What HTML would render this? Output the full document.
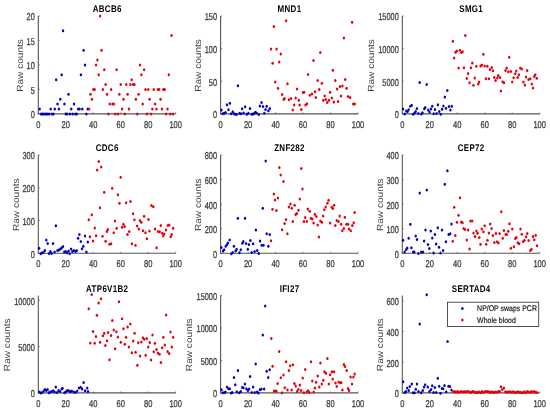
<!DOCTYPE html>
<html><head><meta charset="utf-8"><style>
html,body{margin:0;padding:0;background:#fff;width:550px;height:411px;overflow:hidden}
svg text{font-family:"Liberation Sans",sans-serif;text-rendering:geometricPrecision}
svg{will-change:transform}
</style></head><body>
<svg width="550" height="411" viewBox="0 0 550 411" style="display:block"><path d="M38.30,16.00V113.90H175.70" fill="none" stroke="#555" stroke-width="1.1"/>
<path d="M38.30,113.90h1.4 M38.30,89.43h1.4 M38.30,64.95h1.4 M38.30,40.47h1.4 M38.30,16.00h1.4 M38.30,113.90v-1.4 M65.78,113.90v-1.4 M93.26,113.90v-1.4 M120.74,113.90v-1.4 M148.22,113.90v-1.4 M175.70,113.90v-1.4" stroke="#555" stroke-width="0.8"/>
<text transform="translate(34.80,118.20) scale(0.74,1)" font-size="10.0" text-anchor="end" font-weight="normal" fill="#404040" stroke="#404040" stroke-width="0.3">0</text>
<text transform="translate(34.80,93.73) scale(0.74,1)" font-size="10.0" text-anchor="end" font-weight="normal" fill="#404040" stroke="#404040" stroke-width="0.3">5</text>
<text transform="translate(34.80,69.25) scale(0.74,1)" font-size="10.0" text-anchor="end" font-weight="normal" fill="#404040" stroke="#404040" stroke-width="0.3">10</text>
<text transform="translate(34.80,44.77) scale(0.74,1)" font-size="10.0" text-anchor="end" font-weight="normal" fill="#404040" stroke="#404040" stroke-width="0.3">15</text>
<text transform="translate(34.80,20.30) scale(0.74,1)" font-size="10.0" text-anchor="end" font-weight="normal" fill="#404040" stroke="#404040" stroke-width="0.3">20</text>
<text transform="translate(38.30,127.90) scale(0.76,1)" font-size="9.9" text-anchor="middle" font-weight="normal" fill="#404040" stroke="#404040" stroke-width="0.3">0</text>
<text transform="translate(65.78,127.90) scale(0.76,1)" font-size="9.9" text-anchor="middle" font-weight="normal" fill="#404040" stroke="#404040" stroke-width="0.3">20</text>
<text transform="translate(93.26,127.90) scale(0.76,1)" font-size="9.9" text-anchor="middle" font-weight="normal" fill="#404040" stroke="#404040" stroke-width="0.3">40</text>
<text transform="translate(120.74,127.90) scale(0.76,1)" font-size="9.9" text-anchor="middle" font-weight="normal" fill="#404040" stroke="#404040" stroke-width="0.3">60</text>
<text transform="translate(148.22,127.90) scale(0.76,1)" font-size="9.9" text-anchor="middle" font-weight="normal" fill="#404040" stroke="#404040" stroke-width="0.3">80</text>
<text transform="translate(175.70,127.90) scale(0.76,1)" font-size="9.9" text-anchor="middle" font-weight="normal" fill="#404040" stroke="#404040" stroke-width="0.3">100</text>
<text transform="translate(107.20,12.20) scale(0.82,1)" font-size="9.7" text-anchor="middle" font-weight="bold" fill="#000" letter-spacing="0.4">ABCB6</text>
<text transform="translate(22.70,65.45) rotate(-90) scale(1,0.88)" font-size="10.1" text-anchor="middle" font-weight="normal" fill="#404040">Raw counts</text>
<ellipse cx="39.67" cy="109.01" rx="1.2" ry="1.5" fill="#0000c4"/>
<ellipse cx="41.05" cy="113.90" rx="1.2" ry="1.5" fill="#0000c4"/>
<ellipse cx="42.42" cy="113.90" rx="1.2" ry="1.5" fill="#0000c4"/>
<ellipse cx="43.80" cy="113.90" rx="1.2" ry="1.5" fill="#0000c4"/>
<ellipse cx="45.17" cy="113.90" rx="1.2" ry="1.5" fill="#0000c4"/>
<ellipse cx="46.54" cy="113.90" rx="1.2" ry="1.5" fill="#0000c4"/>
<ellipse cx="47.92" cy="113.90" rx="1.2" ry="1.5" fill="#0000c4"/>
<ellipse cx="49.29" cy="113.90" rx="1.2" ry="1.5" fill="#0000c4"/>
<ellipse cx="50.67" cy="109.01" rx="1.2" ry="1.5" fill="#0000c4"/>
<ellipse cx="52.04" cy="113.90" rx="1.2" ry="1.5" fill="#0000c4"/>
<ellipse cx="53.41" cy="113.90" rx="1.2" ry="1.5" fill="#0000c4"/>
<ellipse cx="54.79" cy="109.01" rx="1.2" ry="1.5" fill="#0000c4"/>
<ellipse cx="56.16" cy="79.64" rx="1.2" ry="1.5" fill="#0000c4"/>
<ellipse cx="57.54" cy="104.11" rx="1.2" ry="1.5" fill="#0000c4"/>
<ellipse cx="58.91" cy="109.01" rx="1.2" ry="1.5" fill="#0000c4"/>
<ellipse cx="60.28" cy="99.22" rx="1.2" ry="1.5" fill="#0000c4"/>
<ellipse cx="61.66" cy="74.74" rx="1.2" ry="1.5" fill="#0000c4"/>
<ellipse cx="63.03" cy="30.69" rx="1.2" ry="1.5" fill="#0000c4"/>
<ellipse cx="64.41" cy="104.11" rx="1.2" ry="1.5" fill="#0000c4"/>
<ellipse cx="65.78" cy="113.90" rx="1.2" ry="1.5" fill="#0000c4"/>
<ellipse cx="67.15" cy="113.90" rx="1.2" ry="1.5" fill="#0000c4"/>
<ellipse cx="68.53" cy="94.32" rx="1.2" ry="1.5" fill="#0000c4"/>
<ellipse cx="69.90" cy="113.90" rx="1.2" ry="1.5" fill="#0000c4"/>
<ellipse cx="71.28" cy="109.01" rx="1.2" ry="1.5" fill="#0000c4"/>
<ellipse cx="72.65" cy="113.90" rx="1.2" ry="1.5" fill="#0000c4"/>
<ellipse cx="74.02" cy="104.11" rx="1.2" ry="1.5" fill="#0000c4"/>
<ellipse cx="75.40" cy="113.90" rx="1.2" ry="1.5" fill="#0000c4"/>
<ellipse cx="76.77" cy="113.90" rx="1.2" ry="1.5" fill="#0000c4"/>
<ellipse cx="78.15" cy="109.01" rx="1.2" ry="1.5" fill="#0000c4"/>
<ellipse cx="79.52" cy="109.01" rx="1.2" ry="1.5" fill="#0000c4"/>
<ellipse cx="80.89" cy="74.74" rx="1.2" ry="1.5" fill="#0000c4"/>
<ellipse cx="82.27" cy="109.01" rx="1.2" ry="1.5" fill="#0000c4"/>
<ellipse cx="83.64" cy="50.27" rx="1.2" ry="1.5" fill="#0000c4"/>
<ellipse cx="85.02" cy="64.95" rx="1.2" ry="1.5" fill="#0000c4"/>
<ellipse cx="86.39" cy="113.90" rx="1.2" ry="1.5" fill="#0000c4"/>
<ellipse cx="87.76" cy="109.01" rx="1.2" ry="1.5" fill="#0000c4"/>
<ellipse cx="89.14" cy="109.01" rx="1.2" ry="1.5" fill="#e4000c"/>
<ellipse cx="90.51" cy="94.32" rx="1.2" ry="1.5" fill="#e4000c"/>
<ellipse cx="91.89" cy="99.22" rx="1.2" ry="1.5" fill="#e4000c"/>
<ellipse cx="93.26" cy="89.43" rx="1.2" ry="1.5" fill="#e4000c"/>
<ellipse cx="94.63" cy="89.43" rx="1.2" ry="1.5" fill="#e4000c"/>
<ellipse cx="96.01" cy="64.95" rx="1.2" ry="1.5" fill="#e4000c"/>
<ellipse cx="97.38" cy="60.05" rx="1.2" ry="1.5" fill="#e4000c"/>
<ellipse cx="98.76" cy="74.74" rx="1.2" ry="1.5" fill="#e4000c"/>
<ellipse cx="100.13" cy="16.00" rx="1.2" ry="1.5" fill="#e4000c"/>
<ellipse cx="101.50" cy="50.27" rx="1.2" ry="1.5" fill="#e4000c"/>
<ellipse cx="102.88" cy="89.43" rx="1.2" ry="1.5" fill="#e4000c"/>
<ellipse cx="104.25" cy="69.84" rx="1.2" ry="1.5" fill="#e4000c"/>
<ellipse cx="105.63" cy="84.53" rx="1.2" ry="1.5" fill="#e4000c"/>
<ellipse cx="107.00" cy="94.32" rx="1.2" ry="1.5" fill="#e4000c"/>
<ellipse cx="108.37" cy="113.90" rx="1.2" ry="1.5" fill="#e4000c"/>
<ellipse cx="109.75" cy="104.11" rx="1.2" ry="1.5" fill="#e4000c"/>
<ellipse cx="111.12" cy="89.43" rx="1.2" ry="1.5" fill="#e4000c"/>
<ellipse cx="112.50" cy="104.11" rx="1.2" ry="1.5" fill="#e4000c"/>
<ellipse cx="113.87" cy="104.11" rx="1.2" ry="1.5" fill="#e4000c"/>
<ellipse cx="115.24" cy="113.90" rx="1.2" ry="1.5" fill="#e4000c"/>
<ellipse cx="116.62" cy="69.84" rx="1.2" ry="1.5" fill="#e4000c"/>
<ellipse cx="117.99" cy="113.90" rx="1.2" ry="1.5" fill="#e4000c"/>
<ellipse cx="119.37" cy="94.32" rx="1.2" ry="1.5" fill="#e4000c"/>
<ellipse cx="120.74" cy="84.53" rx="1.2" ry="1.5" fill="#e4000c"/>
<ellipse cx="122.11" cy="109.01" rx="1.2" ry="1.5" fill="#e4000c"/>
<ellipse cx="123.49" cy="99.22" rx="1.2" ry="1.5" fill="#e4000c"/>
<ellipse cx="124.86" cy="113.90" rx="1.2" ry="1.5" fill="#e4000c"/>
<ellipse cx="126.24" cy="84.53" rx="1.2" ry="1.5" fill="#e4000c"/>
<ellipse cx="127.61" cy="94.32" rx="1.2" ry="1.5" fill="#e4000c"/>
<ellipse cx="128.98" cy="109.01" rx="1.2" ry="1.5" fill="#e4000c"/>
<ellipse cx="130.36" cy="84.53" rx="1.2" ry="1.5" fill="#e4000c"/>
<ellipse cx="131.73" cy="79.64" rx="1.2" ry="1.5" fill="#e4000c"/>
<ellipse cx="133.11" cy="84.53" rx="1.2" ry="1.5" fill="#e4000c"/>
<ellipse cx="134.48" cy="84.53" rx="1.2" ry="1.5" fill="#e4000c"/>
<ellipse cx="135.85" cy="99.22" rx="1.2" ry="1.5" fill="#e4000c"/>
<ellipse cx="137.23" cy="113.90" rx="1.2" ry="1.5" fill="#e4000c"/>
<ellipse cx="138.60" cy="94.32" rx="1.2" ry="1.5" fill="#e4000c"/>
<ellipse cx="139.98" cy="64.95" rx="1.2" ry="1.5" fill="#e4000c"/>
<ellipse cx="141.35" cy="74.74" rx="1.2" ry="1.5" fill="#e4000c"/>
<ellipse cx="142.72" cy="104.11" rx="1.2" ry="1.5" fill="#e4000c"/>
<ellipse cx="144.10" cy="69.84" rx="1.2" ry="1.5" fill="#e4000c"/>
<ellipse cx="145.47" cy="89.43" rx="1.2" ry="1.5" fill="#e4000c"/>
<ellipse cx="146.85" cy="113.90" rx="1.2" ry="1.5" fill="#e4000c"/>
<ellipse cx="148.22" cy="89.43" rx="1.2" ry="1.5" fill="#e4000c"/>
<ellipse cx="149.59" cy="99.22" rx="1.2" ry="1.5" fill="#e4000c"/>
<ellipse cx="150.97" cy="113.90" rx="1.2" ry="1.5" fill="#e4000c"/>
<ellipse cx="152.34" cy="109.01" rx="1.2" ry="1.5" fill="#e4000c"/>
<ellipse cx="153.72" cy="89.43" rx="1.2" ry="1.5" fill="#e4000c"/>
<ellipse cx="155.09" cy="104.11" rx="1.2" ry="1.5" fill="#e4000c"/>
<ellipse cx="156.46" cy="109.01" rx="1.2" ry="1.5" fill="#e4000c"/>
<ellipse cx="157.84" cy="89.43" rx="1.2" ry="1.5" fill="#e4000c"/>
<ellipse cx="159.21" cy="89.43" rx="1.2" ry="1.5" fill="#e4000c"/>
<ellipse cx="160.59" cy="99.22" rx="1.2" ry="1.5" fill="#e4000c"/>
<ellipse cx="161.96" cy="109.01" rx="1.2" ry="1.5" fill="#e4000c"/>
<ellipse cx="163.33" cy="89.43" rx="1.2" ry="1.5" fill="#e4000c"/>
<ellipse cx="164.71" cy="89.43" rx="1.2" ry="1.5" fill="#e4000c"/>
<ellipse cx="166.08" cy="113.90" rx="1.2" ry="1.5" fill="#e4000c"/>
<ellipse cx="167.46" cy="109.01" rx="1.2" ry="1.5" fill="#e4000c"/>
<ellipse cx="168.83" cy="74.74" rx="1.2" ry="1.5" fill="#e4000c"/>
<ellipse cx="170.20" cy="113.90" rx="1.2" ry="1.5" fill="#e4000c"/>
<ellipse cx="171.58" cy="35.58" rx="1.2" ry="1.5" fill="#e4000c"/>
<ellipse cx="172.95" cy="113.90" rx="1.2" ry="1.5" fill="#e4000c"/>
<path d="M220.60,16.00V113.90H358.00" fill="none" stroke="#555" stroke-width="1.1"/>
<path d="M220.60,113.90h1.4 M220.60,81.27h1.4 M220.60,48.63h1.4 M220.60,16.00h1.4 M220.60,113.90v-1.4 M248.08,113.90v-1.4 M275.56,113.90v-1.4 M303.04,113.90v-1.4 M330.52,113.90v-1.4 M358.00,113.90v-1.4" stroke="#555" stroke-width="0.8"/>
<text transform="translate(217.10,118.20) scale(0.74,1)" font-size="10.0" text-anchor="end" font-weight="normal" fill="#404040" stroke="#404040" stroke-width="0.3">0</text>
<text transform="translate(217.10,85.57) scale(0.74,1)" font-size="10.0" text-anchor="end" font-weight="normal" fill="#404040" stroke="#404040" stroke-width="0.3">50</text>
<text transform="translate(217.10,52.93) scale(0.74,1)" font-size="10.0" text-anchor="end" font-weight="normal" fill="#404040" stroke="#404040" stroke-width="0.3">100</text>
<text transform="translate(217.10,20.30) scale(0.74,1)" font-size="10.0" text-anchor="end" font-weight="normal" fill="#404040" stroke="#404040" stroke-width="0.3">150</text>
<text transform="translate(220.60,127.90) scale(0.76,1)" font-size="9.9" text-anchor="middle" font-weight="normal" fill="#404040" stroke="#404040" stroke-width="0.3">0</text>
<text transform="translate(248.08,127.90) scale(0.76,1)" font-size="9.9" text-anchor="middle" font-weight="normal" fill="#404040" stroke="#404040" stroke-width="0.3">20</text>
<text transform="translate(275.56,127.90) scale(0.76,1)" font-size="9.9" text-anchor="middle" font-weight="normal" fill="#404040" stroke="#404040" stroke-width="0.3">40</text>
<text transform="translate(303.04,127.90) scale(0.76,1)" font-size="9.9" text-anchor="middle" font-weight="normal" fill="#404040" stroke="#404040" stroke-width="0.3">60</text>
<text transform="translate(330.52,127.90) scale(0.76,1)" font-size="9.9" text-anchor="middle" font-weight="normal" fill="#404040" stroke="#404040" stroke-width="0.3">80</text>
<text transform="translate(358.00,127.90) scale(0.76,1)" font-size="9.9" text-anchor="middle" font-weight="normal" fill="#404040" stroke="#404040" stroke-width="0.3">100</text>
<text transform="translate(289.50,12.20) scale(0.82,1)" font-size="9.7" text-anchor="middle" font-weight="bold" fill="#000" letter-spacing="0.4">MND1</text>
<text transform="translate(200.80,65.45) rotate(-90) scale(1,0.88)" font-size="10.1" text-anchor="middle" font-weight="normal" fill="#404040">Raw counts</text>
<ellipse cx="221.50" cy="110.00" rx="1.2" ry="1.5" fill="#0000c4"/>
<ellipse cx="222.70" cy="113.70" rx="1.2" ry="1.5" fill="#0000c4"/>
<ellipse cx="224.10" cy="113.20" rx="1.2" ry="1.5" fill="#0000c4"/>
<ellipse cx="225.60" cy="112.60" rx="1.2" ry="1.5" fill="#0000c4"/>
<ellipse cx="227.00" cy="104.70" rx="1.2" ry="1.5" fill="#0000c4"/>
<ellipse cx="228.50" cy="109.70" rx="1.2" ry="1.5" fill="#0000c4"/>
<ellipse cx="229.90" cy="103.30" rx="1.2" ry="1.5" fill="#0000c4"/>
<ellipse cx="231.10" cy="113.70" rx="1.2" ry="1.5" fill="#0000c4"/>
<ellipse cx="232.80" cy="111.70" rx="1.2" ry="1.5" fill="#0000c4"/>
<ellipse cx="234.00" cy="113.70" rx="1.2" ry="1.5" fill="#0000c4"/>
<ellipse cx="235.50" cy="114.30" rx="1.2" ry="1.5" fill="#0000c4"/>
<ellipse cx="236.60" cy="114.60" rx="1.2" ry="1.5" fill="#0000c4"/>
<ellipse cx="237.90" cy="85.70" rx="1.2" ry="1.5" fill="#0000c4"/>
<ellipse cx="239.50" cy="113.20" rx="1.2" ry="1.5" fill="#0000c4"/>
<ellipse cx="241.00" cy="113.70" rx="1.2" ry="1.5" fill="#0000c4"/>
<ellipse cx="242.10" cy="108.80" rx="1.2" ry="1.5" fill="#0000c4"/>
<ellipse cx="243.60" cy="112.90" rx="1.2" ry="1.5" fill="#0000c4"/>
<ellipse cx="245.10" cy="106.80" rx="1.2" ry="1.5" fill="#0000c4"/>
<ellipse cx="246.80" cy="114.30" rx="1.2" ry="1.5" fill="#0000c4"/>
<ellipse cx="248.40" cy="113.20" rx="1.2" ry="1.5" fill="#0000c4"/>
<ellipse cx="250.00" cy="108.50" rx="1.2" ry="1.5" fill="#0000c4"/>
<ellipse cx="251.80" cy="114.30" rx="1.2" ry="1.5" fill="#0000c4"/>
<ellipse cx="252.90" cy="114.00" rx="1.2" ry="1.5" fill="#0000c4"/>
<ellipse cx="254.10" cy="113.50" rx="1.2" ry="1.5" fill="#0000c4"/>
<ellipse cx="255.30" cy="112.30" rx="1.2" ry="1.5" fill="#0000c4"/>
<ellipse cx="256.70" cy="112.90" rx="1.2" ry="1.5" fill="#0000c4"/>
<ellipse cx="258.80" cy="114.60" rx="1.2" ry="1.5" fill="#0000c4"/>
<ellipse cx="259.90" cy="105.90" rx="1.2" ry="1.5" fill="#0000c4"/>
<ellipse cx="261.50" cy="102.50" rx="1.2" ry="1.5" fill="#0000c4"/>
<ellipse cx="263.00" cy="106.40" rx="1.2" ry="1.5" fill="#0000c4"/>
<ellipse cx="264.30" cy="113.20" rx="1.2" ry="1.5" fill="#0000c4"/>
<ellipse cx="265.50" cy="109.40" rx="1.2" ry="1.5" fill="#0000c4"/>
<ellipse cx="266.70" cy="106.20" rx="1.2" ry="1.5" fill="#0000c4"/>
<ellipse cx="268.40" cy="110.80" rx="1.2" ry="1.5" fill="#0000c4"/>
<ellipse cx="269.80" cy="108.50" rx="1.2" ry="1.5" fill="#0000c4"/>
<ellipse cx="271.10" cy="49.00" rx="1.2" ry="1.5" fill="#e4000c"/>
<ellipse cx="272.60" cy="63.20" rx="1.2" ry="1.5" fill="#e4000c"/>
<ellipse cx="273.90" cy="26.50" rx="1.2" ry="1.5" fill="#e4000c"/>
<ellipse cx="275.20" cy="81.90" rx="1.2" ry="1.5" fill="#e4000c"/>
<ellipse cx="276.60" cy="49.00" rx="1.2" ry="1.5" fill="#e4000c"/>
<ellipse cx="278.00" cy="88.20" rx="1.2" ry="1.5" fill="#e4000c"/>
<ellipse cx="279.20" cy="62.10" rx="1.2" ry="1.5" fill="#e4000c"/>
<ellipse cx="280.80" cy="54.10" rx="1.2" ry="1.5" fill="#e4000c"/>
<ellipse cx="282.20" cy="94.60" rx="1.2" ry="1.5" fill="#e4000c"/>
<ellipse cx="283.70" cy="99.50" rx="1.2" ry="1.5" fill="#e4000c"/>
<ellipse cx="284.60" cy="98.40" rx="1.2" ry="1.5" fill="#e4000c"/>
<ellipse cx="286.10" cy="20.70" rx="1.2" ry="1.5" fill="#e4000c"/>
<ellipse cx="287.50" cy="83.70" rx="1.2" ry="1.5" fill="#e4000c"/>
<ellipse cx="288.90" cy="99.80" rx="1.2" ry="1.5" fill="#e4000c"/>
<ellipse cx="291.10" cy="98.40" rx="1.2" ry="1.5" fill="#e4000c"/>
<ellipse cx="292.80" cy="110.10" rx="1.2" ry="1.5" fill="#e4000c"/>
<ellipse cx="294.20" cy="104.90" rx="1.2" ry="1.5" fill="#e4000c"/>
<ellipse cx="295.70" cy="97.90" rx="1.2" ry="1.5" fill="#e4000c"/>
<ellipse cx="297.10" cy="89.00" rx="1.2" ry="1.5" fill="#e4000c"/>
<ellipse cx="298.80" cy="100.30" rx="1.2" ry="1.5" fill="#e4000c"/>
<ellipse cx="299.60" cy="104.90" rx="1.2" ry="1.5" fill="#e4000c"/>
<ellipse cx="301.30" cy="109.40" rx="1.2" ry="1.5" fill="#e4000c"/>
<ellipse cx="303.00" cy="92.50" rx="1.2" ry="1.5" fill="#e4000c"/>
<ellipse cx="304.10" cy="92.20" rx="1.2" ry="1.5" fill="#e4000c"/>
<ellipse cx="305.50" cy="104.90" rx="1.2" ry="1.5" fill="#e4000c"/>
<ellipse cx="307.00" cy="103.80" rx="1.2" ry="1.5" fill="#e4000c"/>
<ellipse cx="308.10" cy="74.40" rx="1.2" ry="1.5" fill="#e4000c"/>
<ellipse cx="309.80" cy="95.30" rx="1.2" ry="1.5" fill="#e4000c"/>
<ellipse cx="311.90" cy="93.90" rx="1.2" ry="1.5" fill="#e4000c"/>
<ellipse cx="313.50" cy="60.40" rx="1.2" ry="1.5" fill="#e4000c"/>
<ellipse cx="315.00" cy="91.80" rx="1.2" ry="1.5" fill="#e4000c"/>
<ellipse cx="315.80" cy="97.40" rx="1.2" ry="1.5" fill="#e4000c"/>
<ellipse cx="317.60" cy="80.50" rx="1.2" ry="1.5" fill="#e4000c"/>
<ellipse cx="319.30" cy="89.40" rx="1.2" ry="1.5" fill="#e4000c"/>
<ellipse cx="320.30" cy="52.60" rx="1.2" ry="1.5" fill="#e4000c"/>
<ellipse cx="321.90" cy="83.30" rx="1.2" ry="1.5" fill="#e4000c"/>
<ellipse cx="323.30" cy="100.30" rx="1.2" ry="1.5" fill="#e4000c"/>
<ellipse cx="324.70" cy="96.00" rx="1.2" ry="1.5" fill="#e4000c"/>
<ellipse cx="325.80" cy="99.50" rx="1.2" ry="1.5" fill="#e4000c"/>
<ellipse cx="327.30" cy="102.40" rx="1.2" ry="1.5" fill="#e4000c"/>
<ellipse cx="329.00" cy="100.30" rx="1.2" ry="1.5" fill="#e4000c"/>
<ellipse cx="330.10" cy="92.20" rx="1.2" ry="1.5" fill="#e4000c"/>
<ellipse cx="331.80" cy="97.90" rx="1.2" ry="1.5" fill="#e4000c"/>
<ellipse cx="332.90" cy="70.20" rx="1.2" ry="1.5" fill="#e4000c"/>
<ellipse cx="333.90" cy="101.90" rx="1.2" ry="1.5" fill="#e4000c"/>
<ellipse cx="335.30" cy="80.50" rx="1.2" ry="1.5" fill="#e4000c"/>
<ellipse cx="337.10" cy="89.00" rx="1.2" ry="1.5" fill="#e4000c"/>
<ellipse cx="338.10" cy="101.40" rx="1.2" ry="1.5" fill="#e4000c"/>
<ellipse cx="340.00" cy="86.60" rx="1.2" ry="1.5" fill="#e4000c"/>
<ellipse cx="341.00" cy="96.00" rx="1.2" ry="1.5" fill="#e4000c"/>
<ellipse cx="342.40" cy="86.10" rx="1.2" ry="1.5" fill="#e4000c"/>
<ellipse cx="343.90" cy="38.10" rx="1.2" ry="1.5" fill="#e4000c"/>
<ellipse cx="345.20" cy="79.50" rx="1.2" ry="1.5" fill="#e4000c"/>
<ellipse cx="346.60" cy="88.20" rx="1.2" ry="1.5" fill="#e4000c"/>
<ellipse cx="348.00" cy="96.40" rx="1.2" ry="1.5" fill="#e4000c"/>
<ellipse cx="350.10" cy="97.40" rx="1.2" ry="1.5" fill="#e4000c"/>
<ellipse cx="352.10" cy="22.20" rx="1.2" ry="1.5" fill="#e4000c"/>
<ellipse cx="353.20" cy="104.10" rx="1.2" ry="1.5" fill="#e4000c"/>
<ellipse cx="354.70" cy="104.10" rx="1.2" ry="1.5" fill="#e4000c"/>
<path d="M402.30,16.00V113.90H539.70" fill="none" stroke="#555" stroke-width="1.1"/>
<path d="M402.30,113.90h1.4 M402.30,81.27h1.4 M402.30,48.63h1.4 M402.30,16.00h1.4 M402.30,113.90v-1.4 M429.78,113.90v-1.4 M457.26,113.90v-1.4 M484.74,113.90v-1.4 M512.22,113.90v-1.4 M539.70,113.90v-1.4" stroke="#555" stroke-width="0.8"/>
<text transform="translate(398.80,118.20) scale(0.74,1)" font-size="10.0" text-anchor="end" font-weight="normal" fill="#404040" stroke="#404040" stroke-width="0.3">0</text>
<text transform="translate(398.80,85.57) scale(0.74,1)" font-size="10.0" text-anchor="end" font-weight="normal" fill="#404040" stroke="#404040" stroke-width="0.3">5000</text>
<text transform="translate(398.80,52.93) scale(0.74,1)" font-size="10.0" text-anchor="end" font-weight="normal" fill="#404040" stroke="#404040" stroke-width="0.3">10000</text>
<text transform="translate(398.80,20.30) scale(0.74,1)" font-size="10.0" text-anchor="end" font-weight="normal" fill="#404040" stroke="#404040" stroke-width="0.3">15000</text>
<text transform="translate(402.30,127.90) scale(0.76,1)" font-size="9.9" text-anchor="middle" font-weight="normal" fill="#404040" stroke="#404040" stroke-width="0.3">0</text>
<text transform="translate(429.78,127.90) scale(0.76,1)" font-size="9.9" text-anchor="middle" font-weight="normal" fill="#404040" stroke="#404040" stroke-width="0.3">20</text>
<text transform="translate(457.26,127.90) scale(0.76,1)" font-size="9.9" text-anchor="middle" font-weight="normal" fill="#404040" stroke="#404040" stroke-width="0.3">40</text>
<text transform="translate(484.74,127.90) scale(0.76,1)" font-size="9.9" text-anchor="middle" font-weight="normal" fill="#404040" stroke="#404040" stroke-width="0.3">60</text>
<text transform="translate(512.22,127.90) scale(0.76,1)" font-size="9.9" text-anchor="middle" font-weight="normal" fill="#404040" stroke="#404040" stroke-width="0.3">80</text>
<text transform="translate(539.70,127.90) scale(0.76,1)" font-size="9.9" text-anchor="middle" font-weight="normal" fill="#404040" stroke="#404040" stroke-width="0.3">100</text>
<text transform="translate(471.20,12.20) scale(0.82,1)" font-size="9.7" text-anchor="middle" font-weight="bold" fill="#000" letter-spacing="0.4">SMG1</text>
<text transform="translate(374.10,65.45) rotate(-90) scale(1,0.88)" font-size="10.1" text-anchor="middle" font-weight="normal" fill="#404040">Raw counts</text>
<ellipse cx="403.10" cy="109.00" rx="1.2" ry="1.5" fill="#0000c4"/>
<ellipse cx="404.70" cy="113.90" rx="1.2" ry="1.5" fill="#0000c4"/>
<ellipse cx="406.30" cy="111.10" rx="1.2" ry="1.5" fill="#0000c4"/>
<ellipse cx="407.50" cy="111.60" rx="1.2" ry="1.5" fill="#0000c4"/>
<ellipse cx="408.60" cy="109.70" rx="1.2" ry="1.5" fill="#0000c4"/>
<ellipse cx="410.30" cy="106.20" rx="1.2" ry="1.5" fill="#0000c4"/>
<ellipse cx="411.70" cy="105.30" rx="1.2" ry="1.5" fill="#0000c4"/>
<ellipse cx="413.10" cy="114.20" rx="1.2" ry="1.5" fill="#0000c4"/>
<ellipse cx="414.60" cy="112.90" rx="1.2" ry="1.5" fill="#0000c4"/>
<ellipse cx="415.70" cy="111.60" rx="1.2" ry="1.5" fill="#0000c4"/>
<ellipse cx="416.90" cy="108.50" rx="1.2" ry="1.5" fill="#0000c4"/>
<ellipse cx="418.30" cy="113.50" rx="1.2" ry="1.5" fill="#0000c4"/>
<ellipse cx="419.70" cy="82.50" rx="1.2" ry="1.5" fill="#0000c4"/>
<ellipse cx="421.40" cy="113.90" rx="1.2" ry="1.5" fill="#0000c4"/>
<ellipse cx="422.50" cy="112.70" rx="1.2" ry="1.5" fill="#0000c4"/>
<ellipse cx="424.30" cy="108.70" rx="1.2" ry="1.5" fill="#0000c4"/>
<ellipse cx="425.30" cy="107.40" rx="1.2" ry="1.5" fill="#0000c4"/>
<ellipse cx="426.70" cy="84.60" rx="1.2" ry="1.5" fill="#0000c4"/>
<ellipse cx="428.20" cy="110.00" rx="1.2" ry="1.5" fill="#0000c4"/>
<ellipse cx="429.50" cy="112.10" rx="1.2" ry="1.5" fill="#0000c4"/>
<ellipse cx="430.90" cy="109.00" rx="1.2" ry="1.5" fill="#0000c4"/>
<ellipse cx="432.20" cy="106.20" rx="1.2" ry="1.5" fill="#0000c4"/>
<ellipse cx="433.70" cy="113.70" rx="1.2" ry="1.5" fill="#0000c4"/>
<ellipse cx="435.00" cy="109.50" rx="1.2" ry="1.5" fill="#0000c4"/>
<ellipse cx="436.60" cy="113.50" rx="1.2" ry="1.5" fill="#0000c4"/>
<ellipse cx="437.90" cy="104.80" rx="1.2" ry="1.5" fill="#0000c4"/>
<ellipse cx="439.20" cy="111.60" rx="1.2" ry="1.5" fill="#0000c4"/>
<ellipse cx="440.80" cy="114.20" rx="1.2" ry="1.5" fill="#0000c4"/>
<ellipse cx="442.10" cy="109.30" rx="1.2" ry="1.5" fill="#0000c4"/>
<ellipse cx="443.40" cy="105.90" rx="1.2" ry="1.5" fill="#0000c4"/>
<ellipse cx="444.80" cy="97.00" rx="1.2" ry="1.5" fill="#0000c4"/>
<ellipse cx="446.00" cy="108.30" rx="1.2" ry="1.5" fill="#0000c4"/>
<ellipse cx="447.30" cy="90.50" rx="1.2" ry="1.5" fill="#0000c4"/>
<ellipse cx="449.00" cy="106.60" rx="1.2" ry="1.5" fill="#0000c4"/>
<ellipse cx="450.40" cy="110.00" rx="1.2" ry="1.5" fill="#0000c4"/>
<ellipse cx="451.80" cy="106.20" rx="1.2" ry="1.5" fill="#0000c4"/>
<ellipse cx="452.90" cy="41.30" rx="1.2" ry="1.5" fill="#e4000c"/>
<ellipse cx="454.10" cy="58.10" rx="1.2" ry="1.5" fill="#e4000c"/>
<ellipse cx="455.50" cy="52.20" rx="1.2" ry="1.5" fill="#e4000c"/>
<ellipse cx="456.80" cy="51.00" rx="1.2" ry="1.5" fill="#e4000c"/>
<ellipse cx="458.60" cy="68.00" rx="1.2" ry="1.5" fill="#e4000c"/>
<ellipse cx="459.90" cy="50.20" rx="1.2" ry="1.5" fill="#e4000c"/>
<ellipse cx="461.40" cy="52.60" rx="1.2" ry="1.5" fill="#e4000c"/>
<ellipse cx="462.60" cy="51.70" rx="1.2" ry="1.5" fill="#e4000c"/>
<ellipse cx="463.90" cy="67.70" rx="1.2" ry="1.5" fill="#e4000c"/>
<ellipse cx="465.30" cy="35.60" rx="1.2" ry="1.5" fill="#e4000c"/>
<ellipse cx="466.70" cy="78.40" rx="1.2" ry="1.5" fill="#e4000c"/>
<ellipse cx="468.10" cy="73.60" rx="1.2" ry="1.5" fill="#e4000c"/>
<ellipse cx="469.60" cy="82.70" rx="1.2" ry="1.5" fill="#e4000c"/>
<ellipse cx="470.90" cy="67.80" rx="1.2" ry="1.5" fill="#e4000c"/>
<ellipse cx="472.30" cy="62.90" rx="1.2" ry="1.5" fill="#e4000c"/>
<ellipse cx="473.50" cy="85.20" rx="1.2" ry="1.5" fill="#e4000c"/>
<ellipse cx="474.80" cy="78.10" rx="1.2" ry="1.5" fill="#e4000c"/>
<ellipse cx="476.30" cy="66.20" rx="1.2" ry="1.5" fill="#e4000c"/>
<ellipse cx="478.20" cy="83.90" rx="1.2" ry="1.5" fill="#e4000c"/>
<ellipse cx="479.10" cy="82.00" rx="1.2" ry="1.5" fill="#e4000c"/>
<ellipse cx="480.60" cy="65.90" rx="1.2" ry="1.5" fill="#e4000c"/>
<ellipse cx="481.90" cy="65.00" rx="1.2" ry="1.5" fill="#e4000c"/>
<ellipse cx="483.30" cy="54.20" rx="1.2" ry="1.5" fill="#e4000c"/>
<ellipse cx="484.60" cy="65.90" rx="1.2" ry="1.5" fill="#e4000c"/>
<ellipse cx="485.90" cy="78.80" rx="1.2" ry="1.5" fill="#e4000c"/>
<ellipse cx="487.30" cy="66.20" rx="1.2" ry="1.5" fill="#e4000c"/>
<ellipse cx="488.90" cy="78.80" rx="1.2" ry="1.5" fill="#e4000c"/>
<ellipse cx="490.00" cy="69.60" rx="1.2" ry="1.5" fill="#e4000c"/>
<ellipse cx="491.80" cy="67.60" rx="1.2" ry="1.5" fill="#e4000c"/>
<ellipse cx="493.00" cy="70.80" rx="1.2" ry="1.5" fill="#e4000c"/>
<ellipse cx="494.30" cy="77.60" rx="1.2" ry="1.5" fill="#e4000c"/>
<ellipse cx="495.60" cy="80.60" rx="1.2" ry="1.5" fill="#e4000c"/>
<ellipse cx="497.30" cy="77.90" rx="1.2" ry="1.5" fill="#e4000c"/>
<ellipse cx="498.20" cy="75.50" rx="1.2" ry="1.5" fill="#e4000c"/>
<ellipse cx="500.00" cy="77.50" rx="1.2" ry="1.5" fill="#e4000c"/>
<ellipse cx="500.90" cy="91.10" rx="1.2" ry="1.5" fill="#e4000c"/>
<ellipse cx="502.60" cy="81.70" rx="1.2" ry="1.5" fill="#e4000c"/>
<ellipse cx="504.00" cy="82.70" rx="1.2" ry="1.5" fill="#e4000c"/>
<ellipse cx="505.50" cy="70.50" rx="1.2" ry="1.5" fill="#e4000c"/>
<ellipse cx="506.70" cy="68.10" rx="1.2" ry="1.5" fill="#e4000c"/>
<ellipse cx="508.30" cy="71.80" rx="1.2" ry="1.5" fill="#e4000c"/>
<ellipse cx="509.20" cy="57.20" rx="1.2" ry="1.5" fill="#e4000c"/>
<ellipse cx="510.80" cy="71.50" rx="1.2" ry="1.5" fill="#e4000c"/>
<ellipse cx="512.20" cy="81.90" rx="1.2" ry="1.5" fill="#e4000c"/>
<ellipse cx="513.60" cy="77.80" rx="1.2" ry="1.5" fill="#e4000c"/>
<ellipse cx="515.20" cy="73.70" rx="1.2" ry="1.5" fill="#e4000c"/>
<ellipse cx="516.30" cy="71.00" rx="1.2" ry="1.5" fill="#e4000c"/>
<ellipse cx="517.70" cy="77.40" rx="1.2" ry="1.5" fill="#e4000c"/>
<ellipse cx="518.90" cy="74.80" rx="1.2" ry="1.5" fill="#e4000c"/>
<ellipse cx="520.30" cy="68.00" rx="1.2" ry="1.5" fill="#e4000c"/>
<ellipse cx="521.80" cy="69.10" rx="1.2" ry="1.5" fill="#e4000c"/>
<ellipse cx="523.40" cy="81.90" rx="1.2" ry="1.5" fill="#e4000c"/>
<ellipse cx="524.90" cy="85.10" rx="1.2" ry="1.5" fill="#e4000c"/>
<ellipse cx="526.00" cy="77.10" rx="1.2" ry="1.5" fill="#e4000c"/>
<ellipse cx="527.20" cy="70.40" rx="1.2" ry="1.5" fill="#e4000c"/>
<ellipse cx="528.60" cy="79.50" rx="1.2" ry="1.5" fill="#e4000c"/>
<ellipse cx="530.30" cy="78.80" rx="1.2" ry="1.5" fill="#e4000c"/>
<ellipse cx="531.80" cy="84.00" rx="1.2" ry="1.5" fill="#e4000c"/>
<ellipse cx="533.00" cy="88.00" rx="1.2" ry="1.5" fill="#e4000c"/>
<ellipse cx="534.30" cy="76.60" rx="1.2" ry="1.5" fill="#e4000c"/>
<ellipse cx="535.30" cy="74.80" rx="1.2" ry="1.5" fill="#e4000c"/>
<ellipse cx="536.80" cy="78.30" rx="1.2" ry="1.5" fill="#e4000c"/>
<path d="M38.30,155.10V253.30H175.70" fill="none" stroke="#555" stroke-width="1.1"/>
<path d="M38.30,253.30h1.4 M38.30,220.57h1.4 M38.30,187.83h1.4 M38.30,155.10h1.4 M38.30,253.30v-1.4 M65.78,253.30v-1.4 M93.26,253.30v-1.4 M120.74,253.30v-1.4 M148.22,253.30v-1.4 M175.70,253.30v-1.4" stroke="#555" stroke-width="0.8"/>
<text transform="translate(34.80,257.60) scale(0.74,1)" font-size="10.0" text-anchor="end" font-weight="normal" fill="#404040" stroke="#404040" stroke-width="0.3">0</text>
<text transform="translate(34.80,224.87) scale(0.74,1)" font-size="10.0" text-anchor="end" font-weight="normal" fill="#404040" stroke="#404040" stroke-width="0.3">100</text>
<text transform="translate(34.80,192.13) scale(0.74,1)" font-size="10.0" text-anchor="end" font-weight="normal" fill="#404040" stroke="#404040" stroke-width="0.3">200</text>
<text transform="translate(34.80,159.40) scale(0.74,1)" font-size="10.0" text-anchor="end" font-weight="normal" fill="#404040" stroke="#404040" stroke-width="0.3">300</text>
<text transform="translate(38.30,267.30) scale(0.76,1)" font-size="9.9" text-anchor="middle" font-weight="normal" fill="#404040" stroke="#404040" stroke-width="0.3">0</text>
<text transform="translate(65.78,267.30) scale(0.76,1)" font-size="9.9" text-anchor="middle" font-weight="normal" fill="#404040" stroke="#404040" stroke-width="0.3">20</text>
<text transform="translate(93.26,267.30) scale(0.76,1)" font-size="9.9" text-anchor="middle" font-weight="normal" fill="#404040" stroke="#404040" stroke-width="0.3">40</text>
<text transform="translate(120.74,267.30) scale(0.76,1)" font-size="9.9" text-anchor="middle" font-weight="normal" fill="#404040" stroke="#404040" stroke-width="0.3">60</text>
<text transform="translate(148.22,267.30) scale(0.76,1)" font-size="9.9" text-anchor="middle" font-weight="normal" fill="#404040" stroke="#404040" stroke-width="0.3">80</text>
<text transform="translate(175.70,267.30) scale(0.76,1)" font-size="9.9" text-anchor="middle" font-weight="normal" fill="#404040" stroke="#404040" stroke-width="0.3">100</text>
<text transform="translate(107.20,151.30) scale(0.82,1)" font-size="9.7" text-anchor="middle" font-weight="bold" fill="#000" letter-spacing="0.4">CDC6</text>
<text transform="translate(18.50,204.70) rotate(-90) scale(1,0.88)" font-size="10.1" text-anchor="middle" font-weight="normal" fill="#404040">Raw counts</text>
<ellipse cx="39.10" cy="248.30" rx="1.2" ry="1.5" fill="#0000c4"/>
<ellipse cx="40.70" cy="253.70" rx="1.2" ry="1.5" fill="#0000c4"/>
<ellipse cx="42.10" cy="252.70" rx="1.2" ry="1.5" fill="#0000c4"/>
<ellipse cx="43.30" cy="252.50" rx="1.2" ry="1.5" fill="#0000c4"/>
<ellipse cx="44.90" cy="250.60" rx="1.2" ry="1.5" fill="#0000c4"/>
<ellipse cx="46.30" cy="239.90" rx="1.2" ry="1.5" fill="#0000c4"/>
<ellipse cx="47.70" cy="243.50" rx="1.2" ry="1.5" fill="#0000c4"/>
<ellipse cx="49.10" cy="253.50" rx="1.2" ry="1.5" fill="#0000c4"/>
<ellipse cx="50.40" cy="251.60" rx="1.2" ry="1.5" fill="#0000c4"/>
<ellipse cx="51.70" cy="253.50" rx="1.2" ry="1.5" fill="#0000c4"/>
<ellipse cx="53.00" cy="243.50" rx="1.2" ry="1.5" fill="#0000c4"/>
<ellipse cx="54.60" cy="252.10" rx="1.2" ry="1.5" fill="#0000c4"/>
<ellipse cx="55.90" cy="225.70" rx="1.2" ry="1.5" fill="#0000c4"/>
<ellipse cx="57.50" cy="250.60" rx="1.2" ry="1.5" fill="#0000c4"/>
<ellipse cx="58.80" cy="250.10" rx="1.2" ry="1.5" fill="#0000c4"/>
<ellipse cx="60.30" cy="249.00" rx="1.2" ry="1.5" fill="#0000c4"/>
<ellipse cx="61.60" cy="248.00" rx="1.2" ry="1.5" fill="#0000c4"/>
<ellipse cx="63.00" cy="246.60" rx="1.2" ry="1.5" fill="#0000c4"/>
<ellipse cx="64.30" cy="252.10" rx="1.2" ry="1.5" fill="#0000c4"/>
<ellipse cx="65.80" cy="251.60" rx="1.2" ry="1.5" fill="#0000c4"/>
<ellipse cx="67.20" cy="252.70" rx="1.2" ry="1.5" fill="#0000c4"/>
<ellipse cx="68.60" cy="251.10" rx="1.2" ry="1.5" fill="#0000c4"/>
<ellipse cx="69.70" cy="253.70" rx="1.2" ry="1.5" fill="#0000c4"/>
<ellipse cx="71.10" cy="249.00" rx="1.2" ry="1.5" fill="#0000c4"/>
<ellipse cx="72.40" cy="251.40" rx="1.2" ry="1.5" fill="#0000c4"/>
<ellipse cx="73.90" cy="250.60" rx="1.2" ry="1.5" fill="#0000c4"/>
<ellipse cx="75.60" cy="251.40" rx="1.2" ry="1.5" fill="#0000c4"/>
<ellipse cx="76.80" cy="250.60" rx="1.2" ry="1.5" fill="#0000c4"/>
<ellipse cx="78.10" cy="238.20" rx="1.2" ry="1.5" fill="#0000c4"/>
<ellipse cx="79.40" cy="234.40" rx="1.2" ry="1.5" fill="#0000c4"/>
<ellipse cx="80.80" cy="241.40" rx="1.2" ry="1.5" fill="#0000c4"/>
<ellipse cx="82.00" cy="248.70" rx="1.2" ry="1.5" fill="#0000c4"/>
<ellipse cx="83.30" cy="246.20" rx="1.2" ry="1.5" fill="#0000c4"/>
<ellipse cx="85.00" cy="235.90" rx="1.2" ry="1.5" fill="#0000c4"/>
<ellipse cx="86.40" cy="252.10" rx="1.2" ry="1.5" fill="#0000c4"/>
<ellipse cx="87.80" cy="242.00" rx="1.2" ry="1.5" fill="#0000c4"/>
<ellipse cx="88.80" cy="219.70" rx="1.2" ry="1.5" fill="#e4000c"/>
<ellipse cx="89.90" cy="236.70" rx="1.2" ry="1.5" fill="#e4000c"/>
<ellipse cx="91.80" cy="214.70" rx="1.2" ry="1.5" fill="#e4000c"/>
<ellipse cx="93.10" cy="241.10" rx="1.2" ry="1.5" fill="#e4000c"/>
<ellipse cx="94.80" cy="227.90" rx="1.2" ry="1.5" fill="#e4000c"/>
<ellipse cx="96.10" cy="235.70" rx="1.2" ry="1.5" fill="#e4000c"/>
<ellipse cx="97.20" cy="170.00" rx="1.2" ry="1.5" fill="#e4000c"/>
<ellipse cx="98.80" cy="161.50" rx="1.2" ry="1.5" fill="#e4000c"/>
<ellipse cx="99.90" cy="207.70" rx="1.2" ry="1.5" fill="#e4000c"/>
<ellipse cx="101.20" cy="167.10" rx="1.2" ry="1.5" fill="#e4000c"/>
<ellipse cx="102.50" cy="236.20" rx="1.2" ry="1.5" fill="#e4000c"/>
<ellipse cx="104.20" cy="192.20" rx="1.2" ry="1.5" fill="#e4000c"/>
<ellipse cx="105.60" cy="241.30" rx="1.2" ry="1.5" fill="#e4000c"/>
<ellipse cx="106.90" cy="231.40" rx="1.2" ry="1.5" fill="#e4000c"/>
<ellipse cx="107.90" cy="229.50" rx="1.2" ry="1.5" fill="#e4000c"/>
<ellipse cx="109.50" cy="244.30" rx="1.2" ry="1.5" fill="#e4000c"/>
<ellipse cx="111.10" cy="243.70" rx="1.2" ry="1.5" fill="#e4000c"/>
<ellipse cx="112.20" cy="188.20" rx="1.2" ry="1.5" fill="#e4000c"/>
<ellipse cx="113.70" cy="232.70" rx="1.2" ry="1.5" fill="#e4000c"/>
<ellipse cx="115.00" cy="221.10" rx="1.2" ry="1.5" fill="#e4000c"/>
<ellipse cx="116.70" cy="228.20" rx="1.2" ry="1.5" fill="#e4000c"/>
<ellipse cx="117.90" cy="194.70" rx="1.2" ry="1.5" fill="#e4000c"/>
<ellipse cx="119.50" cy="203.20" rx="1.2" ry="1.5" fill="#e4000c"/>
<ellipse cx="120.70" cy="177.30" rx="1.2" ry="1.5" fill="#e4000c"/>
<ellipse cx="122.10" cy="227.20" rx="1.2" ry="1.5" fill="#e4000c"/>
<ellipse cx="123.40" cy="224.30" rx="1.2" ry="1.5" fill="#e4000c"/>
<ellipse cx="124.70" cy="226.60" rx="1.2" ry="1.5" fill="#e4000c"/>
<ellipse cx="126.10" cy="202.80" rx="1.2" ry="1.5" fill="#e4000c"/>
<ellipse cx="127.50" cy="234.40" rx="1.2" ry="1.5" fill="#e4000c"/>
<ellipse cx="129.20" cy="231.40" rx="1.2" ry="1.5" fill="#e4000c"/>
<ellipse cx="130.50" cy="201.40" rx="1.2" ry="1.5" fill="#e4000c"/>
<ellipse cx="131.90" cy="243.70" rx="1.2" ry="1.5" fill="#e4000c"/>
<ellipse cx="133.10" cy="213.80" rx="1.2" ry="1.5" fill="#e4000c"/>
<ellipse cx="134.40" cy="219.80" rx="1.2" ry="1.5" fill="#e4000c"/>
<ellipse cx="135.50" cy="245.30" rx="1.2" ry="1.5" fill="#e4000c"/>
<ellipse cx="137.10" cy="226.10" rx="1.2" ry="1.5" fill="#e4000c"/>
<ellipse cx="138.80" cy="229.00" rx="1.2" ry="1.5" fill="#e4000c"/>
<ellipse cx="139.90" cy="220.50" rx="1.2" ry="1.5" fill="#e4000c"/>
<ellipse cx="141.30" cy="222.30" rx="1.2" ry="1.5" fill="#e4000c"/>
<ellipse cx="143.00" cy="230.80" rx="1.2" ry="1.5" fill="#e4000c"/>
<ellipse cx="144.10" cy="216.20" rx="1.2" ry="1.5" fill="#e4000c"/>
<ellipse cx="145.50" cy="232.80" rx="1.2" ry="1.5" fill="#e4000c"/>
<ellipse cx="146.90" cy="238.80" rx="1.2" ry="1.5" fill="#e4000c"/>
<ellipse cx="148.40" cy="219.50" rx="1.2" ry="1.5" fill="#e4000c"/>
<ellipse cx="149.50" cy="231.10" rx="1.2" ry="1.5" fill="#e4000c"/>
<ellipse cx="151.50" cy="205.60" rx="1.2" ry="1.5" fill="#e4000c"/>
<ellipse cx="153.30" cy="206.80" rx="1.2" ry="1.5" fill="#e4000c"/>
<ellipse cx="155.10" cy="229.00" rx="1.2" ry="1.5" fill="#e4000c"/>
<ellipse cx="156.60" cy="247.70" rx="1.2" ry="1.5" fill="#e4000c"/>
<ellipse cx="158.00" cy="231.40" rx="1.2" ry="1.5" fill="#e4000c"/>
<ellipse cx="159.70" cy="231.80" rx="1.2" ry="1.5" fill="#e4000c"/>
<ellipse cx="160.80" cy="225.40" rx="1.2" ry="1.5" fill="#e4000c"/>
<ellipse cx="162.20" cy="233.20" rx="1.2" ry="1.5" fill="#e4000c"/>
<ellipse cx="163.20" cy="236.00" rx="1.2" ry="1.5" fill="#e4000c"/>
<ellipse cx="164.20" cy="233.90" rx="1.2" ry="1.5" fill="#e4000c"/>
<ellipse cx="166.00" cy="229.90" rx="1.2" ry="1.5" fill="#e4000c"/>
<ellipse cx="167.90" cy="225.40" rx="1.2" ry="1.5" fill="#e4000c"/>
<ellipse cx="169.30" cy="225.10" rx="1.2" ry="1.5" fill="#e4000c"/>
<ellipse cx="170.70" cy="236.70" rx="1.2" ry="1.5" fill="#e4000c"/>
<ellipse cx="171.70" cy="234.60" rx="1.2" ry="1.5" fill="#e4000c"/>
<ellipse cx="173.10" cy="228.20" rx="1.2" ry="1.5" fill="#e4000c"/>
<path d="M220.60,155.10V253.30H358.00" fill="none" stroke="#555" stroke-width="1.1"/>
<path d="M220.60,253.30h1.4 M220.60,228.75h1.4 M220.60,204.20h1.4 M220.60,179.65h1.4 M220.60,155.10h1.4 M220.60,253.30v-1.4 M248.08,253.30v-1.4 M275.56,253.30v-1.4 M303.04,253.30v-1.4 M330.52,253.30v-1.4 M358.00,253.30v-1.4" stroke="#555" stroke-width="0.8"/>
<text transform="translate(217.10,257.60) scale(0.74,1)" font-size="10.0" text-anchor="end" font-weight="normal" fill="#404040" stroke="#404040" stroke-width="0.3">0</text>
<text transform="translate(217.10,233.05) scale(0.74,1)" font-size="10.0" text-anchor="end" font-weight="normal" fill="#404040" stroke="#404040" stroke-width="0.3">200</text>
<text transform="translate(217.10,208.50) scale(0.74,1)" font-size="10.0" text-anchor="end" font-weight="normal" fill="#404040" stroke="#404040" stroke-width="0.3">400</text>
<text transform="translate(217.10,183.95) scale(0.74,1)" font-size="10.0" text-anchor="end" font-weight="normal" fill="#404040" stroke="#404040" stroke-width="0.3">600</text>
<text transform="translate(217.10,159.40) scale(0.74,1)" font-size="10.0" text-anchor="end" font-weight="normal" fill="#404040" stroke="#404040" stroke-width="0.3">800</text>
<text transform="translate(220.60,267.30) scale(0.76,1)" font-size="9.9" text-anchor="middle" font-weight="normal" fill="#404040" stroke="#404040" stroke-width="0.3">0</text>
<text transform="translate(248.08,267.30) scale(0.76,1)" font-size="9.9" text-anchor="middle" font-weight="normal" fill="#404040" stroke="#404040" stroke-width="0.3">20</text>
<text transform="translate(275.56,267.30) scale(0.76,1)" font-size="9.9" text-anchor="middle" font-weight="normal" fill="#404040" stroke="#404040" stroke-width="0.3">40</text>
<text transform="translate(303.04,267.30) scale(0.76,1)" font-size="9.9" text-anchor="middle" font-weight="normal" fill="#404040" stroke="#404040" stroke-width="0.3">60</text>
<text transform="translate(330.52,267.30) scale(0.76,1)" font-size="9.9" text-anchor="middle" font-weight="normal" fill="#404040" stroke="#404040" stroke-width="0.3">80</text>
<text transform="translate(358.00,267.30) scale(0.76,1)" font-size="9.9" text-anchor="middle" font-weight="normal" fill="#404040" stroke="#404040" stroke-width="0.3">100</text>
<text transform="translate(289.50,151.30) scale(0.82,1)" font-size="9.7" text-anchor="middle" font-weight="bold" fill="#000" letter-spacing="0.4">ZNF282</text>
<text transform="translate(200.80,204.70) rotate(-90) scale(1,0.88)" font-size="10.1" text-anchor="middle" font-weight="normal" fill="#404040">Raw counts</text>
<ellipse cx="221.30" cy="247.60" rx="1.2" ry="1.5" fill="#0000c4"/>
<ellipse cx="223.00" cy="251.10" rx="1.2" ry="1.5" fill="#0000c4"/>
<ellipse cx="224.10" cy="249.70" rx="1.2" ry="1.5" fill="#0000c4"/>
<ellipse cx="225.80" cy="246.20" rx="1.2" ry="1.5" fill="#0000c4"/>
<ellipse cx="226.90" cy="244.80" rx="1.2" ry="1.5" fill="#0000c4"/>
<ellipse cx="227.90" cy="243.00" rx="1.2" ry="1.5" fill="#0000c4"/>
<ellipse cx="229.70" cy="240.10" rx="1.2" ry="1.5" fill="#0000c4"/>
<ellipse cx="231.40" cy="253.70" rx="1.2" ry="1.5" fill="#0000c4"/>
<ellipse cx="232.70" cy="252.50" rx="1.2" ry="1.5" fill="#0000c4"/>
<ellipse cx="233.90" cy="246.20" rx="1.2" ry="1.5" fill="#0000c4"/>
<ellipse cx="235.60" cy="251.10" rx="1.2" ry="1.5" fill="#0000c4"/>
<ellipse cx="236.60" cy="249.30" rx="1.2" ry="1.5" fill="#0000c4"/>
<ellipse cx="237.90" cy="218.30" rx="1.2" ry="1.5" fill="#0000c4"/>
<ellipse cx="239.50" cy="252.70" rx="1.2" ry="1.5" fill="#0000c4"/>
<ellipse cx="240.80" cy="249.70" rx="1.2" ry="1.5" fill="#0000c4"/>
<ellipse cx="242.30" cy="243.30" rx="1.2" ry="1.5" fill="#0000c4"/>
<ellipse cx="243.30" cy="241.40" rx="1.2" ry="1.5" fill="#0000c4"/>
<ellipse cx="245.00" cy="218.30" rx="1.2" ry="1.5" fill="#0000c4"/>
<ellipse cx="246.00" cy="243.50" rx="1.2" ry="1.5" fill="#0000c4"/>
<ellipse cx="247.80" cy="249.30" rx="1.2" ry="1.5" fill="#0000c4"/>
<ellipse cx="248.90" cy="244.50" rx="1.2" ry="1.5" fill="#0000c4"/>
<ellipse cx="250.40" cy="240.60" rx="1.2" ry="1.5" fill="#0000c4"/>
<ellipse cx="251.70" cy="252.50" rx="1.2" ry="1.5" fill="#0000c4"/>
<ellipse cx="253.10" cy="243.80" rx="1.2" ry="1.5" fill="#0000c4"/>
<ellipse cx="254.60" cy="251.40" rx="1.2" ry="1.5" fill="#0000c4"/>
<ellipse cx="255.90" cy="229.90" rx="1.2" ry="1.5" fill="#0000c4"/>
<ellipse cx="257.20" cy="250.60" rx="1.2" ry="1.5" fill="#0000c4"/>
<ellipse cx="258.80" cy="253.50" rx="1.2" ry="1.5" fill="#0000c4"/>
<ellipse cx="260.10" cy="241.00" rx="1.2" ry="1.5" fill="#0000c4"/>
<ellipse cx="261.70" cy="245.30" rx="1.2" ry="1.5" fill="#0000c4"/>
<ellipse cx="262.80" cy="208.30" rx="1.2" ry="1.5" fill="#0000c4"/>
<ellipse cx="263.50" cy="245.30" rx="1.2" ry="1.5" fill="#0000c4"/>
<ellipse cx="265.70" cy="161.10" rx="1.2" ry="1.5" fill="#0000c4"/>
<ellipse cx="266.70" cy="233.80" rx="1.2" ry="1.5" fill="#0000c4"/>
<ellipse cx="268.40" cy="246.20" rx="1.2" ry="1.5" fill="#0000c4"/>
<ellipse cx="269.80" cy="234.40" rx="1.2" ry="1.5" fill="#0000c4"/>
<ellipse cx="271.00" cy="240.70" rx="1.2" ry="1.5" fill="#e4000c"/>
<ellipse cx="272.50" cy="209.20" rx="1.2" ry="1.5" fill="#e4000c"/>
<ellipse cx="273.90" cy="193.90" rx="1.2" ry="1.5" fill="#e4000c"/>
<ellipse cx="275.00" cy="200.00" rx="1.2" ry="1.5" fill="#e4000c"/>
<ellipse cx="276.40" cy="210.60" rx="1.2" ry="1.5" fill="#e4000c"/>
<ellipse cx="277.90" cy="197.90" rx="1.2" ry="1.5" fill="#e4000c"/>
<ellipse cx="279.30" cy="167.40" rx="1.2" ry="1.5" fill="#e4000c"/>
<ellipse cx="280.70" cy="175.00" rx="1.2" ry="1.5" fill="#e4000c"/>
<ellipse cx="282.10" cy="229.70" rx="1.2" ry="1.5" fill="#e4000c"/>
<ellipse cx="283.50" cy="181.50" rx="1.2" ry="1.5" fill="#e4000c"/>
<ellipse cx="284.60" cy="223.50" rx="1.2" ry="1.5" fill="#e4000c"/>
<ellipse cx="286.00" cy="219.50" rx="1.2" ry="1.5" fill="#e4000c"/>
<ellipse cx="287.40" cy="233.80" rx="1.2" ry="1.5" fill="#e4000c"/>
<ellipse cx="288.90" cy="207.10" rx="1.2" ry="1.5" fill="#e4000c"/>
<ellipse cx="290.50" cy="203.90" rx="1.2" ry="1.5" fill="#e4000c"/>
<ellipse cx="291.80" cy="208.20" rx="1.2" ry="1.5" fill="#e4000c"/>
<ellipse cx="292.80" cy="221.60" rx="1.2" ry="1.5" fill="#e4000c"/>
<ellipse cx="294.60" cy="205.20" rx="1.2" ry="1.5" fill="#e4000c"/>
<ellipse cx="295.60" cy="214.60" rx="1.2" ry="1.5" fill="#e4000c"/>
<ellipse cx="296.90" cy="213.50" rx="1.2" ry="1.5" fill="#e4000c"/>
<ellipse cx="298.50" cy="210.30" rx="1.2" ry="1.5" fill="#e4000c"/>
<ellipse cx="299.80" cy="199.10" rx="1.2" ry="1.5" fill="#e4000c"/>
<ellipse cx="301.30" cy="168.50" rx="1.2" ry="1.5" fill="#e4000c"/>
<ellipse cx="302.50" cy="189.00" rx="1.2" ry="1.5" fill="#e4000c"/>
<ellipse cx="303.90" cy="221.40" rx="1.2" ry="1.5" fill="#e4000c"/>
<ellipse cx="305.20" cy="217.50" rx="1.2" ry="1.5" fill="#e4000c"/>
<ellipse cx="306.80" cy="221.40" rx="1.2" ry="1.5" fill="#e4000c"/>
<ellipse cx="307.80" cy="208.90" rx="1.2" ry="1.5" fill="#e4000c"/>
<ellipse cx="309.80" cy="211.30" rx="1.2" ry="1.5" fill="#e4000c"/>
<ellipse cx="310.90" cy="218.20" rx="1.2" ry="1.5" fill="#e4000c"/>
<ellipse cx="312.30" cy="219.00" rx="1.2" ry="1.5" fill="#e4000c"/>
<ellipse cx="313.60" cy="223.10" rx="1.2" ry="1.5" fill="#e4000c"/>
<ellipse cx="314.90" cy="214.20" rx="1.2" ry="1.5" fill="#e4000c"/>
<ellipse cx="316.40" cy="216.40" rx="1.2" ry="1.5" fill="#e4000c"/>
<ellipse cx="317.70" cy="225.10" rx="1.2" ry="1.5" fill="#e4000c"/>
<ellipse cx="318.90" cy="237.10" rx="1.2" ry="1.5" fill="#e4000c"/>
<ellipse cx="320.40" cy="221.10" rx="1.2" ry="1.5" fill="#e4000c"/>
<ellipse cx="321.90" cy="222.30" rx="1.2" ry="1.5" fill="#e4000c"/>
<ellipse cx="323.10" cy="216.10" rx="1.2" ry="1.5" fill="#e4000c"/>
<ellipse cx="324.30" cy="209.70" rx="1.2" ry="1.5" fill="#e4000c"/>
<ellipse cx="325.70" cy="207.10" rx="1.2" ry="1.5" fill="#e4000c"/>
<ellipse cx="327.40" cy="203.30" rx="1.2" ry="1.5" fill="#e4000c"/>
<ellipse cx="328.60" cy="200.30" rx="1.2" ry="1.5" fill="#e4000c"/>
<ellipse cx="330.10" cy="223.10" rx="1.2" ry="1.5" fill="#e4000c"/>
<ellipse cx="331.80" cy="207.30" rx="1.2" ry="1.5" fill="#e4000c"/>
<ellipse cx="332.90" cy="208.50" rx="1.2" ry="1.5" fill="#e4000c"/>
<ellipse cx="334.10" cy="205.20" rx="1.2" ry="1.5" fill="#e4000c"/>
<ellipse cx="335.30" cy="225.40" rx="1.2" ry="1.5" fill="#e4000c"/>
<ellipse cx="336.80" cy="220.40" rx="1.2" ry="1.5" fill="#e4000c"/>
<ellipse cx="338.50" cy="221.40" rx="1.2" ry="1.5" fill="#e4000c"/>
<ellipse cx="339.70" cy="216.10" rx="1.2" ry="1.5" fill="#e4000c"/>
<ellipse cx="341.10" cy="224.30" rx="1.2" ry="1.5" fill="#e4000c"/>
<ellipse cx="342.30" cy="230.70" rx="1.2" ry="1.5" fill="#e4000c"/>
<ellipse cx="343.80" cy="228.40" rx="1.2" ry="1.5" fill="#e4000c"/>
<ellipse cx="344.90" cy="217.30" rx="1.2" ry="1.5" fill="#e4000c"/>
<ellipse cx="346.50" cy="224.30" rx="1.2" ry="1.5" fill="#e4000c"/>
<ellipse cx="348.10" cy="224.30" rx="1.2" ry="1.5" fill="#e4000c"/>
<ellipse cx="349.00" cy="228.90" rx="1.2" ry="1.5" fill="#e4000c"/>
<ellipse cx="350.80" cy="230.70" rx="1.2" ry="1.5" fill="#e4000c"/>
<ellipse cx="352.30" cy="225.40" rx="1.2" ry="1.5" fill="#e4000c"/>
<ellipse cx="353.70" cy="222.80" rx="1.2" ry="1.5" fill="#e4000c"/>
<ellipse cx="354.60" cy="212.60" rx="1.2" ry="1.5" fill="#e4000c"/>
<path d="M402.30,155.10V253.30H539.70" fill="none" stroke="#555" stroke-width="1.1"/>
<path d="M402.30,253.30h1.4 M402.30,228.75h1.4 M402.30,204.20h1.4 M402.30,179.65h1.4 M402.30,155.10h1.4 M402.30,253.30v-1.4 M429.78,253.30v-1.4 M457.26,253.30v-1.4 M484.74,253.30v-1.4 M512.22,253.30v-1.4 M539.70,253.30v-1.4" stroke="#555" stroke-width="0.8"/>
<text transform="translate(398.80,257.60) scale(0.74,1)" font-size="10.0" text-anchor="end" font-weight="normal" fill="#404040" stroke="#404040" stroke-width="0.3">0</text>
<text transform="translate(398.80,233.05) scale(0.74,1)" font-size="10.0" text-anchor="end" font-weight="normal" fill="#404040" stroke="#404040" stroke-width="0.3">100</text>
<text transform="translate(398.80,208.50) scale(0.74,1)" font-size="10.0" text-anchor="end" font-weight="normal" fill="#404040" stroke="#404040" stroke-width="0.3">200</text>
<text transform="translate(398.80,183.95) scale(0.74,1)" font-size="10.0" text-anchor="end" font-weight="normal" fill="#404040" stroke="#404040" stroke-width="0.3">300</text>
<text transform="translate(398.80,159.40) scale(0.74,1)" font-size="10.0" text-anchor="end" font-weight="normal" fill="#404040" stroke="#404040" stroke-width="0.3">400</text>
<text transform="translate(402.30,267.30) scale(0.76,1)" font-size="9.9" text-anchor="middle" font-weight="normal" fill="#404040" stroke="#404040" stroke-width="0.3">0</text>
<text transform="translate(429.78,267.30) scale(0.76,1)" font-size="9.9" text-anchor="middle" font-weight="normal" fill="#404040" stroke="#404040" stroke-width="0.3">20</text>
<text transform="translate(457.26,267.30) scale(0.76,1)" font-size="9.9" text-anchor="middle" font-weight="normal" fill="#404040" stroke="#404040" stroke-width="0.3">40</text>
<text transform="translate(484.74,267.30) scale(0.76,1)" font-size="9.9" text-anchor="middle" font-weight="normal" fill="#404040" stroke="#404040" stroke-width="0.3">60</text>
<text transform="translate(512.22,267.30) scale(0.76,1)" font-size="9.9" text-anchor="middle" font-weight="normal" fill="#404040" stroke="#404040" stroke-width="0.3">80</text>
<text transform="translate(539.70,267.30) scale(0.76,1)" font-size="9.9" text-anchor="middle" font-weight="normal" fill="#404040" stroke="#404040" stroke-width="0.3">100</text>
<text transform="translate(471.20,151.30) scale(0.82,1)" font-size="9.7" text-anchor="middle" font-weight="bold" fill="#000" letter-spacing="0.4">CEP72</text>
<text transform="translate(382.50,204.70) rotate(-90) scale(1,0.88)" font-size="10.1" text-anchor="middle" font-weight="normal" fill="#404040">Raw counts</text>
<ellipse cx="403.10" cy="240.20" rx="1.2" ry="1.5" fill="#0000c4"/>
<ellipse cx="404.70" cy="252.10" rx="1.2" ry="1.5" fill="#0000c4"/>
<ellipse cx="406.20" cy="249.50" rx="1.2" ry="1.5" fill="#0000c4"/>
<ellipse cx="407.30" cy="248.10" rx="1.2" ry="1.5" fill="#0000c4"/>
<ellipse cx="408.70" cy="238.30" rx="1.2" ry="1.5" fill="#0000c4"/>
<ellipse cx="410.30" cy="224.30" rx="1.2" ry="1.5" fill="#0000c4"/>
<ellipse cx="411.40" cy="247.80" rx="1.2" ry="1.5" fill="#0000c4"/>
<ellipse cx="413.20" cy="252.10" rx="1.2" ry="1.5" fill="#0000c4"/>
<ellipse cx="414.30" cy="252.10" rx="1.2" ry="1.5" fill="#0000c4"/>
<ellipse cx="415.70" cy="236.10" rx="1.2" ry="1.5" fill="#0000c4"/>
<ellipse cx="417.00" cy="239.40" rx="1.2" ry="1.5" fill="#0000c4"/>
<ellipse cx="418.50" cy="253.40" rx="1.2" ry="1.5" fill="#0000c4"/>
<ellipse cx="419.70" cy="193.00" rx="1.2" ry="1.5" fill="#0000c4"/>
<ellipse cx="421.30" cy="252.10" rx="1.2" ry="1.5" fill="#0000c4"/>
<ellipse cx="423.00" cy="252.10" rx="1.2" ry="1.5" fill="#0000c4"/>
<ellipse cx="424.10" cy="240.90" rx="1.2" ry="1.5" fill="#0000c4"/>
<ellipse cx="425.50" cy="229.90" rx="1.2" ry="1.5" fill="#0000c4"/>
<ellipse cx="426.80" cy="189.90" rx="1.2" ry="1.5" fill="#0000c4"/>
<ellipse cx="428.00" cy="244.50" rx="1.2" ry="1.5" fill="#0000c4"/>
<ellipse cx="429.30" cy="248.40" rx="1.2" ry="1.5" fill="#0000c4"/>
<ellipse cx="430.80" cy="231.00" rx="1.2" ry="1.5" fill="#0000c4"/>
<ellipse cx="432.30" cy="238.00" rx="1.2" ry="1.5" fill="#0000c4"/>
<ellipse cx="433.60" cy="252.90" rx="1.2" ry="1.5" fill="#0000c4"/>
<ellipse cx="434.90" cy="234.60" rx="1.2" ry="1.5" fill="#0000c4"/>
<ellipse cx="436.10" cy="243.90" rx="1.2" ry="1.5" fill="#0000c4"/>
<ellipse cx="437.80" cy="227.70" rx="1.2" ry="1.5" fill="#0000c4"/>
<ellipse cx="439.00" cy="247.30" rx="1.2" ry="1.5" fill="#0000c4"/>
<ellipse cx="440.50" cy="252.90" rx="1.2" ry="1.5" fill="#0000c4"/>
<ellipse cx="442.00" cy="230.10" rx="1.2" ry="1.5" fill="#0000c4"/>
<ellipse cx="443.10" cy="250.60" rx="1.2" ry="1.5" fill="#0000c4"/>
<ellipse cx="444.80" cy="184.20" rx="1.2" ry="1.5" fill="#0000c4"/>
<ellipse cx="445.90" cy="241.70" rx="1.2" ry="1.5" fill="#0000c4"/>
<ellipse cx="447.40" cy="170.80" rx="1.2" ry="1.5" fill="#0000c4"/>
<ellipse cx="448.70" cy="234.40" rx="1.2" ry="1.5" fill="#0000c4"/>
<ellipse cx="450.20" cy="233.80" rx="1.2" ry="1.5" fill="#0000c4"/>
<ellipse cx="451.50" cy="224.10" rx="1.2" ry="1.5" fill="#0000c4"/>
<ellipse cx="452.80" cy="241.30" rx="1.2" ry="1.5" fill="#e4000c"/>
<ellipse cx="454.20" cy="207.30" rx="1.2" ry="1.5" fill="#e4000c"/>
<ellipse cx="455.30" cy="235.50" rx="1.2" ry="1.5" fill="#e4000c"/>
<ellipse cx="456.90" cy="222.30" rx="1.2" ry="1.5" fill="#e4000c"/>
<ellipse cx="458.50" cy="215.20" rx="1.2" ry="1.5" fill="#e4000c"/>
<ellipse cx="460.00" cy="197.70" rx="1.2" ry="1.5" fill="#e4000c"/>
<ellipse cx="461.30" cy="222.10" rx="1.2" ry="1.5" fill="#e4000c"/>
<ellipse cx="462.50" cy="222.80" rx="1.2" ry="1.5" fill="#e4000c"/>
<ellipse cx="463.70" cy="228.40" rx="1.2" ry="1.5" fill="#e4000c"/>
<ellipse cx="465.00" cy="229.60" rx="1.2" ry="1.5" fill="#e4000c"/>
<ellipse cx="466.80" cy="240.00" rx="1.2" ry="1.5" fill="#e4000c"/>
<ellipse cx="468.10" cy="230.00" rx="1.2" ry="1.5" fill="#e4000c"/>
<ellipse cx="469.50" cy="249.10" rx="1.2" ry="1.5" fill="#e4000c"/>
<ellipse cx="470.50" cy="221.10" rx="1.2" ry="1.5" fill="#e4000c"/>
<ellipse cx="472.20" cy="221.10" rx="1.2" ry="1.5" fill="#e4000c"/>
<ellipse cx="473.50" cy="232.90" rx="1.2" ry="1.5" fill="#e4000c"/>
<ellipse cx="475.00" cy="236.40" rx="1.2" ry="1.5" fill="#e4000c"/>
<ellipse cx="476.40" cy="230.90" rx="1.2" ry="1.5" fill="#e4000c"/>
<ellipse cx="477.60" cy="233.30" rx="1.2" ry="1.5" fill="#e4000c"/>
<ellipse cx="479.30" cy="237.60" rx="1.2" ry="1.5" fill="#e4000c"/>
<ellipse cx="480.50" cy="244.30" rx="1.2" ry="1.5" fill="#e4000c"/>
<ellipse cx="481.80" cy="229.00" rx="1.2" ry="1.5" fill="#e4000c"/>
<ellipse cx="483.40" cy="231.70" rx="1.2" ry="1.5" fill="#e4000c"/>
<ellipse cx="484.70" cy="225.70" rx="1.2" ry="1.5" fill="#e4000c"/>
<ellipse cx="486.20" cy="244.30" rx="1.2" ry="1.5" fill="#e4000c"/>
<ellipse cx="487.50" cy="240.20" rx="1.2" ry="1.5" fill="#e4000c"/>
<ellipse cx="488.90" cy="233.00" rx="1.2" ry="1.5" fill="#e4000c"/>
<ellipse cx="490.20" cy="224.00" rx="1.2" ry="1.5" fill="#e4000c"/>
<ellipse cx="491.60" cy="228.60" rx="1.2" ry="1.5" fill="#e4000c"/>
<ellipse cx="492.90" cy="235.50" rx="1.2" ry="1.5" fill="#e4000c"/>
<ellipse cx="494.40" cy="242.50" rx="1.2" ry="1.5" fill="#e4000c"/>
<ellipse cx="495.90" cy="233.60" rx="1.2" ry="1.5" fill="#e4000c"/>
<ellipse cx="497.10" cy="241.80" rx="1.2" ry="1.5" fill="#e4000c"/>
<ellipse cx="498.40" cy="242.90" rx="1.2" ry="1.5" fill="#e4000c"/>
<ellipse cx="499.60" cy="233.60" rx="1.2" ry="1.5" fill="#e4000c"/>
<ellipse cx="501.30" cy="211.70" rx="1.2" ry="1.5" fill="#e4000c"/>
<ellipse cx="502.70" cy="238.20" rx="1.2" ry="1.5" fill="#e4000c"/>
<ellipse cx="503.90" cy="230.40" rx="1.2" ry="1.5" fill="#e4000c"/>
<ellipse cx="505.70" cy="234.50" rx="1.2" ry="1.5" fill="#e4000c"/>
<ellipse cx="506.80" cy="234.50" rx="1.2" ry="1.5" fill="#e4000c"/>
<ellipse cx="508.20" cy="231.20" rx="1.2" ry="1.5" fill="#e4000c"/>
<ellipse cx="509.40" cy="223.80" rx="1.2" ry="1.5" fill="#e4000c"/>
<ellipse cx="510.90" cy="248.20" rx="1.2" ry="1.5" fill="#e4000c"/>
<ellipse cx="512.30" cy="229.10" rx="1.2" ry="1.5" fill="#e4000c"/>
<ellipse cx="513.90" cy="246.70" rx="1.2" ry="1.5" fill="#e4000c"/>
<ellipse cx="515.20" cy="238.40" rx="1.2" ry="1.5" fill="#e4000c"/>
<ellipse cx="516.40" cy="237.50" rx="1.2" ry="1.5" fill="#e4000c"/>
<ellipse cx="517.70" cy="242.70" rx="1.2" ry="1.5" fill="#e4000c"/>
<ellipse cx="519.10" cy="243.80" rx="1.2" ry="1.5" fill="#e4000c"/>
<ellipse cx="520.50" cy="229.10" rx="1.2" ry="1.5" fill="#e4000c"/>
<ellipse cx="521.80" cy="234.30" rx="1.2" ry="1.5" fill="#e4000c"/>
<ellipse cx="523.20" cy="241.50" rx="1.2" ry="1.5" fill="#e4000c"/>
<ellipse cx="524.50" cy="240.20" rx="1.2" ry="1.5" fill="#e4000c"/>
<ellipse cx="526.10" cy="236.70" rx="1.2" ry="1.5" fill="#e4000c"/>
<ellipse cx="527.30" cy="233.60" rx="1.2" ry="1.5" fill="#e4000c"/>
<ellipse cx="528.60" cy="240.60" rx="1.2" ry="1.5" fill="#e4000c"/>
<ellipse cx="530.30" cy="250.40" rx="1.2" ry="1.5" fill="#e4000c"/>
<ellipse cx="531.50" cy="249.30" rx="1.2" ry="1.5" fill="#e4000c"/>
<ellipse cx="533.00" cy="236.40" rx="1.2" ry="1.5" fill="#e4000c"/>
<ellipse cx="534.30" cy="239.70" rx="1.2" ry="1.5" fill="#e4000c"/>
<ellipse cx="535.70" cy="235.20" rx="1.2" ry="1.5" fill="#e4000c"/>
<ellipse cx="537.00" cy="245.80" rx="1.2" ry="1.5" fill="#e4000c"/>
<path d="M38.30,295.60V392.90H175.70" fill="none" stroke="#555" stroke-width="1.1"/>
<path d="M38.30,392.90h1.4 M38.30,346.57h1.4 M38.30,300.23h1.4 M38.30,392.90v-1.4 M65.78,392.90v-1.4 M93.26,392.90v-1.4 M120.74,392.90v-1.4 M148.22,392.90v-1.4 M175.70,392.90v-1.4" stroke="#555" stroke-width="0.8"/>
<text transform="translate(34.80,397.20) scale(0.74,1)" font-size="10.0" text-anchor="end" font-weight="normal" fill="#404040" stroke="#404040" stroke-width="0.3">0</text>
<text transform="translate(34.80,350.87) scale(0.74,1)" font-size="10.0" text-anchor="end" font-weight="normal" fill="#404040" stroke="#404040" stroke-width="0.3">5000</text>
<text transform="translate(34.80,304.53) scale(0.74,1)" font-size="10.0" text-anchor="end" font-weight="normal" fill="#404040" stroke="#404040" stroke-width="0.3">10000</text>
<text transform="translate(38.30,406.90) scale(0.76,1)" font-size="9.9" text-anchor="middle" font-weight="normal" fill="#404040" stroke="#404040" stroke-width="0.3">0</text>
<text transform="translate(65.78,406.90) scale(0.76,1)" font-size="9.9" text-anchor="middle" font-weight="normal" fill="#404040" stroke="#404040" stroke-width="0.3">20</text>
<text transform="translate(93.26,406.90) scale(0.76,1)" font-size="9.9" text-anchor="middle" font-weight="normal" fill="#404040" stroke="#404040" stroke-width="0.3">40</text>
<text transform="translate(120.74,406.90) scale(0.76,1)" font-size="9.9" text-anchor="middle" font-weight="normal" fill="#404040" stroke="#404040" stroke-width="0.3">60</text>
<text transform="translate(148.22,406.90) scale(0.76,1)" font-size="9.9" text-anchor="middle" font-weight="normal" fill="#404040" stroke="#404040" stroke-width="0.3">80</text>
<text transform="translate(175.70,406.90) scale(0.76,1)" font-size="9.9" text-anchor="middle" font-weight="normal" fill="#404040" stroke="#404040" stroke-width="0.3">100</text>
<text transform="translate(107.20,291.80) scale(0.82,1)" font-size="9.7" text-anchor="middle" font-weight="bold" fill="#000" letter-spacing="0.4">ATP6V1B2</text>
<text transform="translate(10.10,344.75) rotate(-90) scale(1,0.88)" font-size="10.1" text-anchor="middle" font-weight="normal" fill="#404040">Raw counts</text>
<ellipse cx="39.40" cy="392.10" rx="1.2" ry="1.5" fill="#0000c4"/>
<ellipse cx="40.90" cy="393.10" rx="1.2" ry="1.5" fill="#0000c4"/>
<ellipse cx="42.10" cy="392.40" rx="1.2" ry="1.5" fill="#0000c4"/>
<ellipse cx="43.70" cy="391.10" rx="1.2" ry="1.5" fill="#0000c4"/>
<ellipse cx="45.00" cy="389.40" rx="1.2" ry="1.5" fill="#0000c4"/>
<ellipse cx="46.30" cy="390.60" rx="1.2" ry="1.5" fill="#0000c4"/>
<ellipse cx="47.60" cy="389.40" rx="1.2" ry="1.5" fill="#0000c4"/>
<ellipse cx="48.80" cy="392.80" rx="1.2" ry="1.5" fill="#0000c4"/>
<ellipse cx="50.20" cy="392.10" rx="1.2" ry="1.5" fill="#0000c4"/>
<ellipse cx="51.70" cy="391.40" rx="1.2" ry="1.5" fill="#0000c4"/>
<ellipse cx="53.20" cy="390.80" rx="1.2" ry="1.5" fill="#0000c4"/>
<ellipse cx="54.60" cy="392.10" rx="1.2" ry="1.5" fill="#0000c4"/>
<ellipse cx="55.80" cy="386.90" rx="1.2" ry="1.5" fill="#0000c4"/>
<ellipse cx="57.10" cy="392.40" rx="1.2" ry="1.5" fill="#0000c4"/>
<ellipse cx="58.60" cy="390.60" rx="1.2" ry="1.5" fill="#0000c4"/>
<ellipse cx="60.00" cy="391.40" rx="1.2" ry="1.5" fill="#0000c4"/>
<ellipse cx="61.70" cy="389.10" rx="1.2" ry="1.5" fill="#0000c4"/>
<ellipse cx="62.50" cy="388.20" rx="1.2" ry="1.5" fill="#0000c4"/>
<ellipse cx="64.50" cy="392.80" rx="1.2" ry="1.5" fill="#0000c4"/>
<ellipse cx="65.90" cy="391.80" rx="1.2" ry="1.5" fill="#0000c4"/>
<ellipse cx="67.20" cy="390.60" rx="1.2" ry="1.5" fill="#0000c4"/>
<ellipse cx="68.90" cy="390.80" rx="1.2" ry="1.5" fill="#0000c4"/>
<ellipse cx="70.30" cy="391.80" rx="1.2" ry="1.5" fill="#0000c4"/>
<ellipse cx="71.80" cy="391.10" rx="1.2" ry="1.5" fill="#0000c4"/>
<ellipse cx="73.80" cy="392.10" rx="1.2" ry="1.5" fill="#0000c4"/>
<ellipse cx="75.50" cy="392.40" rx="1.2" ry="1.5" fill="#0000c4"/>
<ellipse cx="77.20" cy="391.10" rx="1.2" ry="1.5" fill="#0000c4"/>
<ellipse cx="79.00" cy="387.90" rx="1.2" ry="1.5" fill="#0000c4"/>
<ellipse cx="80.70" cy="387.20" rx="1.2" ry="1.5" fill="#0000c4"/>
<ellipse cx="82.10" cy="389.10" rx="1.2" ry="1.5" fill="#0000c4"/>
<ellipse cx="83.60" cy="382.60" rx="1.2" ry="1.5" fill="#0000c4"/>
<ellipse cx="85.10" cy="390.80" rx="1.2" ry="1.5" fill="#0000c4"/>
<ellipse cx="87.20" cy="387.90" rx="1.2" ry="1.5" fill="#0000c4"/>
<ellipse cx="88.00" cy="391.50" rx="1.2" ry="1.5" fill="#0000c4"/>
<ellipse cx="88.70" cy="308.80" rx="1.2" ry="1.5" fill="#e4000c"/>
<ellipse cx="90.30" cy="343.10" rx="1.2" ry="1.5" fill="#e4000c"/>
<ellipse cx="91.70" cy="294.60" rx="1.2" ry="1.5" fill="#e4000c"/>
<ellipse cx="93.00" cy="331.50" rx="1.2" ry="1.5" fill="#e4000c"/>
<ellipse cx="94.70" cy="343.30" rx="1.2" ry="1.5" fill="#e4000c"/>
<ellipse cx="96.00" cy="336.40" rx="1.2" ry="1.5" fill="#e4000c"/>
<ellipse cx="96.90" cy="315.20" rx="1.2" ry="1.5" fill="#e4000c"/>
<ellipse cx="98.60" cy="302.90" rx="1.2" ry="1.5" fill="#e4000c"/>
<ellipse cx="100.10" cy="342.30" rx="1.2" ry="1.5" fill="#e4000c"/>
<ellipse cx="101.10" cy="298.80" rx="1.2" ry="1.5" fill="#e4000c"/>
<ellipse cx="102.90" cy="335.70" rx="1.2" ry="1.5" fill="#e4000c"/>
<ellipse cx="104.20" cy="333.20" rx="1.2" ry="1.5" fill="#e4000c"/>
<ellipse cx="105.40" cy="345.40" rx="1.2" ry="1.5" fill="#e4000c"/>
<ellipse cx="107.00" cy="340.80" rx="1.2" ry="1.5" fill="#e4000c"/>
<ellipse cx="108.10" cy="332.60" rx="1.2" ry="1.5" fill="#e4000c"/>
<ellipse cx="109.50" cy="359.70" rx="1.2" ry="1.5" fill="#e4000c"/>
<ellipse cx="111.10" cy="335.40" rx="1.2" ry="1.5" fill="#e4000c"/>
<ellipse cx="112.30" cy="320.40" rx="1.2" ry="1.5" fill="#e4000c"/>
<ellipse cx="113.80" cy="330.10" rx="1.2" ry="1.5" fill="#e4000c"/>
<ellipse cx="115.10" cy="348.70" rx="1.2" ry="1.5" fill="#e4000c"/>
<ellipse cx="116.40" cy="331.80" rx="1.2" ry="1.5" fill="#e4000c"/>
<ellipse cx="117.90" cy="337.00" rx="1.2" ry="1.5" fill="#e4000c"/>
<ellipse cx="119.00" cy="301.80" rx="1.2" ry="1.5" fill="#e4000c"/>
<ellipse cx="120.80" cy="342.30" rx="1.2" ry="1.5" fill="#e4000c"/>
<ellipse cx="122.10" cy="318.70" rx="1.2" ry="1.5" fill="#e4000c"/>
<ellipse cx="123.50" cy="328.80" rx="1.2" ry="1.5" fill="#e4000c"/>
<ellipse cx="124.90" cy="344.20" rx="1.2" ry="1.5" fill="#e4000c"/>
<ellipse cx="126.10" cy="337.20" rx="1.2" ry="1.5" fill="#e4000c"/>
<ellipse cx="127.60" cy="327.00" rx="1.2" ry="1.5" fill="#e4000c"/>
<ellipse cx="128.90" cy="346.90" rx="1.2" ry="1.5" fill="#e4000c"/>
<ellipse cx="130.30" cy="324.10" rx="1.2" ry="1.5" fill="#e4000c"/>
<ellipse cx="131.80" cy="352.70" rx="1.2" ry="1.5" fill="#e4000c"/>
<ellipse cx="133.20" cy="341.00" rx="1.2" ry="1.5" fill="#e4000c"/>
<ellipse cx="134.60" cy="333.30" rx="1.2" ry="1.5" fill="#e4000c"/>
<ellipse cx="135.60" cy="352.20" rx="1.2" ry="1.5" fill="#e4000c"/>
<ellipse cx="137.40" cy="365.30" rx="1.2" ry="1.5" fill="#e4000c"/>
<ellipse cx="138.30" cy="342.80" rx="1.2" ry="1.5" fill="#e4000c"/>
<ellipse cx="140.10" cy="356.00" rx="1.2" ry="1.5" fill="#e4000c"/>
<ellipse cx="141.40" cy="341.90" rx="1.2" ry="1.5" fill="#e4000c"/>
<ellipse cx="142.90" cy="337.70" rx="1.2" ry="1.5" fill="#e4000c"/>
<ellipse cx="144.20" cy="339.30" rx="1.2" ry="1.5" fill="#e4000c"/>
<ellipse cx="145.70" cy="355.30" rx="1.2" ry="1.5" fill="#e4000c"/>
<ellipse cx="146.70" cy="338.60" rx="1.2" ry="1.5" fill="#e4000c"/>
<ellipse cx="148.20" cy="347.00" rx="1.2" ry="1.5" fill="#e4000c"/>
<ellipse cx="149.80" cy="342.50" rx="1.2" ry="1.5" fill="#e4000c"/>
<ellipse cx="151.00" cy="359.90" rx="1.2" ry="1.5" fill="#e4000c"/>
<ellipse cx="152.50" cy="334.90" rx="1.2" ry="1.5" fill="#e4000c"/>
<ellipse cx="153.70" cy="351.80" rx="1.2" ry="1.5" fill="#e4000c"/>
<ellipse cx="154.90" cy="343.30" rx="1.2" ry="1.5" fill="#e4000c"/>
<ellipse cx="156.50" cy="349.50" rx="1.2" ry="1.5" fill="#e4000c"/>
<ellipse cx="157.90" cy="353.00" rx="1.2" ry="1.5" fill="#e4000c"/>
<ellipse cx="159.60" cy="354.20" rx="1.2" ry="1.5" fill="#e4000c"/>
<ellipse cx="160.90" cy="362.50" rx="1.2" ry="1.5" fill="#e4000c"/>
<ellipse cx="162.10" cy="347.70" rx="1.2" ry="1.5" fill="#e4000c"/>
<ellipse cx="163.30" cy="337.20" rx="1.2" ry="1.5" fill="#e4000c"/>
<ellipse cx="164.80" cy="344.90" rx="1.2" ry="1.5" fill="#e4000c"/>
<ellipse cx="166.10" cy="315.10" rx="1.2" ry="1.5" fill="#e4000c"/>
<ellipse cx="167.60" cy="351.60" rx="1.2" ry="1.5" fill="#e4000c"/>
<ellipse cx="169.20" cy="353.40" rx="1.2" ry="1.5" fill="#e4000c"/>
<ellipse cx="170.50" cy="331.90" rx="1.2" ry="1.5" fill="#e4000c"/>
<ellipse cx="171.80" cy="347.00" rx="1.2" ry="1.5" fill="#e4000c"/>
<ellipse cx="173.20" cy="337.20" rx="1.2" ry="1.5" fill="#e4000c"/>
<path d="M220.60,295.60V392.90H358.00" fill="none" stroke="#555" stroke-width="1.1"/>
<path d="M220.60,392.90h1.4 M220.60,360.47h1.4 M220.60,328.03h1.4 M220.60,295.60h1.4 M220.60,392.90v-1.4 M248.08,392.90v-1.4 M275.56,392.90v-1.4 M303.04,392.90v-1.4 M330.52,392.90v-1.4 M358.00,392.90v-1.4" stroke="#555" stroke-width="0.8"/>
<text transform="translate(217.10,397.20) scale(0.74,1)" font-size="10.0" text-anchor="end" font-weight="normal" fill="#404040" stroke="#404040" stroke-width="0.3">0</text>
<text transform="translate(217.10,364.77) scale(0.74,1)" font-size="10.0" text-anchor="end" font-weight="normal" fill="#404040" stroke="#404040" stroke-width="0.3">5000</text>
<text transform="translate(217.10,332.33) scale(0.74,1)" font-size="10.0" text-anchor="end" font-weight="normal" fill="#404040" stroke="#404040" stroke-width="0.3">10000</text>
<text transform="translate(217.10,299.90) scale(0.74,1)" font-size="10.0" text-anchor="end" font-weight="normal" fill="#404040" stroke="#404040" stroke-width="0.3">15000</text>
<text transform="translate(220.60,406.90) scale(0.76,1)" font-size="9.9" text-anchor="middle" font-weight="normal" fill="#404040" stroke="#404040" stroke-width="0.3">0</text>
<text transform="translate(248.08,406.90) scale(0.76,1)" font-size="9.9" text-anchor="middle" font-weight="normal" fill="#404040" stroke="#404040" stroke-width="0.3">20</text>
<text transform="translate(275.56,406.90) scale(0.76,1)" font-size="9.9" text-anchor="middle" font-weight="normal" fill="#404040" stroke="#404040" stroke-width="0.3">40</text>
<text transform="translate(303.04,406.90) scale(0.76,1)" font-size="9.9" text-anchor="middle" font-weight="normal" fill="#404040" stroke="#404040" stroke-width="0.3">60</text>
<text transform="translate(330.52,406.90) scale(0.76,1)" font-size="9.9" text-anchor="middle" font-weight="normal" fill="#404040" stroke="#404040" stroke-width="0.3">80</text>
<text transform="translate(358.00,406.90) scale(0.76,1)" font-size="9.9" text-anchor="middle" font-weight="normal" fill="#404040" stroke="#404040" stroke-width="0.3">100</text>
<text transform="translate(289.50,291.80) scale(0.82,1)" font-size="9.7" text-anchor="middle" font-weight="bold" fill="#000" letter-spacing="0.4">IFI27</text>
<text transform="translate(192.40,344.75) rotate(-90) scale(1,0.88)" font-size="10.1" text-anchor="middle" font-weight="normal" fill="#404040">Raw counts</text>
<ellipse cx="221.50" cy="389.70" rx="1.2" ry="1.5" fill="#0000c4"/>
<ellipse cx="222.80" cy="392.70" rx="1.2" ry="1.5" fill="#0000c4"/>
<ellipse cx="224.20" cy="392.70" rx="1.2" ry="1.5" fill="#0000c4"/>
<ellipse cx="225.50" cy="391.90" rx="1.2" ry="1.5" fill="#0000c4"/>
<ellipse cx="227.00" cy="387.10" rx="1.2" ry="1.5" fill="#0000c4"/>
<ellipse cx="228.50" cy="388.70" rx="1.2" ry="1.5" fill="#0000c4"/>
<ellipse cx="229.80" cy="388.70" rx="1.2" ry="1.5" fill="#0000c4"/>
<ellipse cx="231.00" cy="393.10" rx="1.2" ry="1.5" fill="#0000c4"/>
<ellipse cx="232.20" cy="392.40" rx="1.2" ry="1.5" fill="#0000c4"/>
<ellipse cx="234.00" cy="377.50" rx="1.2" ry="1.5" fill="#0000c4"/>
<ellipse cx="235.20" cy="384.70" rx="1.2" ry="1.5" fill="#0000c4"/>
<ellipse cx="236.80" cy="391.70" rx="1.2" ry="1.5" fill="#0000c4"/>
<ellipse cx="238.00" cy="370.50" rx="1.2" ry="1.5" fill="#0000c4"/>
<ellipse cx="239.20" cy="392.70" rx="1.2" ry="1.5" fill="#0000c4"/>
<ellipse cx="240.80" cy="391.40" rx="1.2" ry="1.5" fill="#0000c4"/>
<ellipse cx="242.20" cy="387.40" rx="1.2" ry="1.5" fill="#0000c4"/>
<ellipse cx="243.40" cy="387.70" rx="1.2" ry="1.5" fill="#0000c4"/>
<ellipse cx="244.90" cy="384.10" rx="1.2" ry="1.5" fill="#0000c4"/>
<ellipse cx="246.40" cy="388.70" rx="1.2" ry="1.5" fill="#0000c4"/>
<ellipse cx="247.90" cy="390.40" rx="1.2" ry="1.5" fill="#0000c4"/>
<ellipse cx="249.10" cy="389.10" rx="1.2" ry="1.5" fill="#0000c4"/>
<ellipse cx="250.10" cy="376.50" rx="1.2" ry="1.5" fill="#0000c4"/>
<ellipse cx="251.70" cy="392.40" rx="1.2" ry="1.5" fill="#0000c4"/>
<ellipse cx="253.10" cy="387.10" rx="1.2" ry="1.5" fill="#0000c4"/>
<ellipse cx="254.70" cy="392.40" rx="1.2" ry="1.5" fill="#0000c4"/>
<ellipse cx="255.70" cy="364.00" rx="1.2" ry="1.5" fill="#0000c4"/>
<ellipse cx="257.10" cy="391.90" rx="1.2" ry="1.5" fill="#0000c4"/>
<ellipse cx="258.40" cy="393.10" rx="1.2" ry="1.5" fill="#0000c4"/>
<ellipse cx="259.90" cy="389.70" rx="1.2" ry="1.5" fill="#0000c4"/>
<ellipse cx="261.40" cy="389.10" rx="1.2" ry="1.5" fill="#0000c4"/>
<ellipse cx="262.80" cy="334.90" rx="1.2" ry="1.5" fill="#0000c4"/>
<ellipse cx="264.10" cy="388.90" rx="1.2" ry="1.5" fill="#0000c4"/>
<ellipse cx="265.20" cy="305.90" rx="1.2" ry="1.5" fill="#0000c4"/>
<ellipse cx="266.70" cy="371.20" rx="1.2" ry="1.5" fill="#0000c4"/>
<ellipse cx="268.20" cy="377.50" rx="1.2" ry="1.5" fill="#0000c4"/>
<ellipse cx="269.70" cy="369.80" rx="1.2" ry="1.5" fill="#0000c4"/>
<ellipse cx="271.30" cy="338.60" rx="1.2" ry="1.5" fill="#e4000c"/>
<ellipse cx="272.60" cy="366.30" rx="1.2" ry="1.5" fill="#e4000c"/>
<ellipse cx="274.00" cy="391.10" rx="1.2" ry="1.5" fill="#e4000c"/>
<ellipse cx="275.20" cy="391.10" rx="1.2" ry="1.5" fill="#e4000c"/>
<ellipse cx="276.50" cy="391.10" rx="1.2" ry="1.5" fill="#e4000c"/>
<ellipse cx="277.70" cy="383.40" rx="1.2" ry="1.5" fill="#e4000c"/>
<ellipse cx="279.20" cy="351.60" rx="1.2" ry="1.5" fill="#e4000c"/>
<ellipse cx="280.80" cy="377.70" rx="1.2" ry="1.5" fill="#e4000c"/>
<ellipse cx="282.00" cy="392.70" rx="1.2" ry="1.5" fill="#e4000c"/>
<ellipse cx="283.50" cy="375.10" rx="1.2" ry="1.5" fill="#e4000c"/>
<ellipse cx="284.80" cy="387.70" rx="1.2" ry="1.5" fill="#e4000c"/>
<ellipse cx="286.10" cy="361.70" rx="1.2" ry="1.5" fill="#e4000c"/>
<ellipse cx="287.50" cy="389.90" rx="1.2" ry="1.5" fill="#e4000c"/>
<ellipse cx="288.90" cy="370.40" rx="1.2" ry="1.5" fill="#e4000c"/>
<ellipse cx="290.20" cy="365.70" rx="1.2" ry="1.5" fill="#e4000c"/>
<ellipse cx="291.70" cy="390.10" rx="1.2" ry="1.5" fill="#e4000c"/>
<ellipse cx="292.90" cy="364.80" rx="1.2" ry="1.5" fill="#e4000c"/>
<ellipse cx="294.40" cy="383.40" rx="1.2" ry="1.5" fill="#e4000c"/>
<ellipse cx="295.70" cy="386.10" rx="1.2" ry="1.5" fill="#e4000c"/>
<ellipse cx="297.10" cy="391.40" rx="1.2" ry="1.5" fill="#e4000c"/>
<ellipse cx="298.40" cy="389.40" rx="1.2" ry="1.5" fill="#e4000c"/>
<ellipse cx="299.90" cy="384.90" rx="1.2" ry="1.5" fill="#e4000c"/>
<ellipse cx="301.10" cy="390.40" rx="1.2" ry="1.5" fill="#e4000c"/>
<ellipse cx="302.70" cy="378.10" rx="1.2" ry="1.5" fill="#e4000c"/>
<ellipse cx="303.90" cy="392.70" rx="1.2" ry="1.5" fill="#e4000c"/>
<ellipse cx="305.20" cy="369.50" rx="1.2" ry="1.5" fill="#e4000c"/>
<ellipse cx="306.90" cy="392.10" rx="1.2" ry="1.5" fill="#e4000c"/>
<ellipse cx="308.10" cy="390.70" rx="1.2" ry="1.5" fill="#e4000c"/>
<ellipse cx="309.40" cy="392.40" rx="1.2" ry="1.5" fill="#e4000c"/>
<ellipse cx="311.00" cy="361.70" rx="1.2" ry="1.5" fill="#e4000c"/>
<ellipse cx="312.30" cy="381.00" rx="1.2" ry="1.5" fill="#e4000c"/>
<ellipse cx="313.70" cy="392.10" rx="1.2" ry="1.5" fill="#e4000c"/>
<ellipse cx="314.90" cy="387.90" rx="1.2" ry="1.5" fill="#e4000c"/>
<ellipse cx="316.10" cy="382.30" rx="1.2" ry="1.5" fill="#e4000c"/>
<ellipse cx="317.80" cy="376.00" rx="1.2" ry="1.5" fill="#e4000c"/>
<ellipse cx="319.30" cy="387.10" rx="1.2" ry="1.5" fill="#e4000c"/>
<ellipse cx="320.40" cy="362.90" rx="1.2" ry="1.5" fill="#e4000c"/>
<ellipse cx="321.80" cy="384.10" rx="1.2" ry="1.5" fill="#e4000c"/>
<ellipse cx="323.20" cy="380.20" rx="1.2" ry="1.5" fill="#e4000c"/>
<ellipse cx="324.50" cy="371.80" rx="1.2" ry="1.5" fill="#e4000c"/>
<ellipse cx="326.00" cy="373.30" rx="1.2" ry="1.5" fill="#e4000c"/>
<ellipse cx="327.40" cy="358.40" rx="1.2" ry="1.5" fill="#e4000c"/>
<ellipse cx="328.80" cy="384.10" rx="1.2" ry="1.5" fill="#e4000c"/>
<ellipse cx="330.10" cy="374.80" rx="1.2" ry="1.5" fill="#e4000c"/>
<ellipse cx="331.90" cy="371.80" rx="1.2" ry="1.5" fill="#e4000c"/>
<ellipse cx="332.70" cy="379.10" rx="1.2" ry="1.5" fill="#e4000c"/>
<ellipse cx="334.10" cy="371.80" rx="1.2" ry="1.5" fill="#e4000c"/>
<ellipse cx="335.50" cy="383.00" rx="1.2" ry="1.5" fill="#e4000c"/>
<ellipse cx="336.80" cy="386.40" rx="1.2" ry="1.5" fill="#e4000c"/>
<ellipse cx="338.60" cy="381.90" rx="1.2" ry="1.5" fill="#e4000c"/>
<ellipse cx="340.20" cy="382.70" rx="1.2" ry="1.5" fill="#e4000c"/>
<ellipse cx="341.30" cy="382.70" rx="1.2" ry="1.5" fill="#e4000c"/>
<ellipse cx="342.40" cy="390.00" rx="1.2" ry="1.5" fill="#e4000c"/>
<ellipse cx="343.90" cy="364.50" rx="1.2" ry="1.5" fill="#e4000c"/>
<ellipse cx="345.00" cy="366.60" rx="1.2" ry="1.5" fill="#e4000c"/>
<ellipse cx="346.70" cy="370.40" rx="1.2" ry="1.5" fill="#e4000c"/>
<ellipse cx="348.00" cy="388.60" rx="1.2" ry="1.5" fill="#e4000c"/>
<ellipse cx="349.10" cy="390.50" rx="1.2" ry="1.5" fill="#e4000c"/>
<ellipse cx="350.60" cy="377.10" rx="1.2" ry="1.5" fill="#e4000c"/>
<ellipse cx="352.00" cy="384.10" rx="1.2" ry="1.5" fill="#e4000c"/>
<ellipse cx="353.40" cy="377.10" rx="1.2" ry="1.5" fill="#e4000c"/>
<ellipse cx="354.70" cy="374.00" rx="1.2" ry="1.5" fill="#e4000c"/>
<path d="M402.30,295.60V392.90H539.70" fill="none" stroke="#555" stroke-width="1.1"/>
<path d="M402.30,392.90h1.4 M402.30,362.21h1.4 M402.30,331.51h1.4 M402.30,300.82h1.4 M402.30,392.90v-1.4 M429.78,392.90v-1.4 M457.26,392.90v-1.4 M484.74,392.90v-1.4 M512.22,392.90v-1.4 M539.70,392.90v-1.4" stroke="#555" stroke-width="0.8"/>
<text transform="translate(398.80,397.20) scale(0.74,1)" font-size="10.0" text-anchor="end" font-weight="normal" fill="#404040" stroke="#404040" stroke-width="0.3">0</text>
<text transform="translate(398.80,366.51) scale(0.74,1)" font-size="10.0" text-anchor="end" font-weight="normal" fill="#404040" stroke="#404040" stroke-width="0.3">200</text>
<text transform="translate(398.80,335.81) scale(0.74,1)" font-size="10.0" text-anchor="end" font-weight="normal" fill="#404040" stroke="#404040" stroke-width="0.3">400</text>
<text transform="translate(398.80,305.12) scale(0.74,1)" font-size="10.0" text-anchor="end" font-weight="normal" fill="#404040" stroke="#404040" stroke-width="0.3">600</text>
<text transform="translate(402.30,406.90) scale(0.76,1)" font-size="9.9" text-anchor="middle" font-weight="normal" fill="#404040" stroke="#404040" stroke-width="0.3">0</text>
<text transform="translate(429.78,406.90) scale(0.76,1)" font-size="9.9" text-anchor="middle" font-weight="normal" fill="#404040" stroke="#404040" stroke-width="0.3">20</text>
<text transform="translate(457.26,406.90) scale(0.76,1)" font-size="9.9" text-anchor="middle" font-weight="normal" fill="#404040" stroke="#404040" stroke-width="0.3">40</text>
<text transform="translate(484.74,406.90) scale(0.76,1)" font-size="9.9" text-anchor="middle" font-weight="normal" fill="#404040" stroke="#404040" stroke-width="0.3">60</text>
<text transform="translate(512.22,406.90) scale(0.76,1)" font-size="9.9" text-anchor="middle" font-weight="normal" fill="#404040" stroke="#404040" stroke-width="0.3">80</text>
<text transform="translate(539.70,406.90) scale(0.76,1)" font-size="9.9" text-anchor="middle" font-weight="normal" fill="#404040" stroke="#404040" stroke-width="0.3">100</text>
<text transform="translate(471.20,291.80) scale(0.82,1)" font-size="9.7" text-anchor="middle" font-weight="bold" fill="#000" letter-spacing="0.4">SERTAD4</text>
<text transform="translate(382.50,344.75) rotate(-90) scale(1,0.88)" font-size="10.1" text-anchor="middle" font-weight="normal" fill="#404040">Raw counts</text>
<ellipse cx="403.20" cy="381.80" rx="1.2" ry="1.5" fill="#0000c4"/>
<ellipse cx="404.80" cy="392.50" rx="1.2" ry="1.5" fill="#0000c4"/>
<ellipse cx="406.00" cy="391.50" rx="1.2" ry="1.5" fill="#0000c4"/>
<ellipse cx="407.20" cy="388.00" rx="1.2" ry="1.5" fill="#0000c4"/>
<ellipse cx="408.80" cy="390.50" rx="1.2" ry="1.5" fill="#0000c4"/>
<ellipse cx="409.80" cy="386.50" rx="1.2" ry="1.5" fill="#0000c4"/>
<ellipse cx="411.80" cy="384.00" rx="1.2" ry="1.5" fill="#0000c4"/>
<ellipse cx="413.00" cy="392.80" rx="1.2" ry="1.5" fill="#0000c4"/>
<ellipse cx="414.50" cy="392.80" rx="1.2" ry="1.5" fill="#0000c4"/>
<ellipse cx="415.80" cy="389.20" rx="1.2" ry="1.5" fill="#0000c4"/>
<ellipse cx="417.00" cy="384.00" rx="1.2" ry="1.5" fill="#0000c4"/>
<ellipse cx="418.50" cy="391.50" rx="1.2" ry="1.5" fill="#0000c4"/>
<ellipse cx="419.70" cy="324.10" rx="1.2" ry="1.5" fill="#0000c4"/>
<ellipse cx="421.20" cy="392.80" rx="1.2" ry="1.5" fill="#0000c4"/>
<ellipse cx="422.80" cy="390.50" rx="1.2" ry="1.5" fill="#0000c4"/>
<ellipse cx="424.00" cy="387.00" rx="1.2" ry="1.5" fill="#0000c4"/>
<ellipse cx="425.20" cy="384.80" rx="1.2" ry="1.5" fill="#0000c4"/>
<ellipse cx="426.70" cy="294.70" rx="1.2" ry="1.5" fill="#0000c4"/>
<ellipse cx="427.80" cy="387.00" rx="1.2" ry="1.5" fill="#0000c4"/>
<ellipse cx="429.50" cy="391.50" rx="1.2" ry="1.5" fill="#0000c4"/>
<ellipse cx="431.00" cy="389.50" rx="1.2" ry="1.5" fill="#0000c4"/>
<ellipse cx="432.20" cy="385.80" rx="1.2" ry="1.5" fill="#0000c4"/>
<ellipse cx="433.50" cy="392.50" rx="1.2" ry="1.5" fill="#0000c4"/>
<ellipse cx="434.80" cy="387.50" rx="1.2" ry="1.5" fill="#0000c4"/>
<ellipse cx="436.20" cy="392.50" rx="1.2" ry="1.5" fill="#0000c4"/>
<ellipse cx="437.80" cy="378.20" rx="1.2" ry="1.5" fill="#0000c4"/>
<ellipse cx="439.20" cy="386.20" rx="1.2" ry="1.5" fill="#0000c4"/>
<ellipse cx="440.50" cy="393.20" rx="1.2" ry="1.5" fill="#0000c4"/>
<ellipse cx="442.00" cy="388.50" rx="1.2" ry="1.5" fill="#0000c4"/>
<ellipse cx="443.20" cy="388.80" rx="1.2" ry="1.5" fill="#0000c4"/>
<ellipse cx="444.50" cy="385.50" rx="1.2" ry="1.5" fill="#0000c4"/>
<ellipse cx="446.20" cy="391.80" rx="1.2" ry="1.5" fill="#0000c4"/>
<ellipse cx="447.60" cy="341.50" rx="1.2" ry="1.5" fill="#0000c4"/>
<ellipse cx="448.50" cy="386.20" rx="1.2" ry="1.5" fill="#0000c4"/>
<ellipse cx="450.00" cy="386.50" rx="1.2" ry="1.5" fill="#0000c4"/>
<ellipse cx="451.50" cy="390.00" rx="1.2" ry="1.5" fill="#0000c4"/>
<ellipse cx="453.14" cy="391.85" rx="1.2" ry="1.5" fill="#e4000c"/>
<ellipse cx="454.51" cy="391.61" rx="1.2" ry="1.5" fill="#e4000c"/>
<ellipse cx="455.89" cy="392.31" rx="1.2" ry="1.5" fill="#e4000c"/>
<ellipse cx="457.26" cy="391.50" rx="1.2" ry="1.5" fill="#e4000c"/>
<ellipse cx="458.63" cy="392.15" rx="1.2" ry="1.5" fill="#e4000c"/>
<ellipse cx="460.01" cy="391.91" rx="1.2" ry="1.5" fill="#e4000c"/>
<ellipse cx="461.38" cy="391.48" rx="1.2" ry="1.5" fill="#e4000c"/>
<ellipse cx="462.76" cy="392.11" rx="1.2" ry="1.5" fill="#e4000c"/>
<ellipse cx="464.13" cy="391.45" rx="1.2" ry="1.5" fill="#e4000c"/>
<ellipse cx="465.50" cy="392.01" rx="1.2" ry="1.5" fill="#e4000c"/>
<ellipse cx="466.88" cy="391.50" rx="1.2" ry="1.5" fill="#e4000c"/>
<ellipse cx="468.25" cy="391.53" rx="1.2" ry="1.5" fill="#e4000c"/>
<ellipse cx="469.63" cy="391.99" rx="1.2" ry="1.5" fill="#e4000c"/>
<ellipse cx="471.00" cy="392.56" rx="1.2" ry="1.5" fill="#e4000c"/>
<ellipse cx="472.37" cy="391.57" rx="1.2" ry="1.5" fill="#e4000c"/>
<ellipse cx="473.75" cy="391.71" rx="1.2" ry="1.5" fill="#e4000c"/>
<ellipse cx="475.12" cy="392.28" rx="1.2" ry="1.5" fill="#e4000c"/>
<ellipse cx="476.50" cy="392.73" rx="1.2" ry="1.5" fill="#e4000c"/>
<ellipse cx="477.87" cy="392.21" rx="1.2" ry="1.5" fill="#e4000c"/>
<ellipse cx="479.24" cy="391.96" rx="1.2" ry="1.5" fill="#e4000c"/>
<ellipse cx="480.62" cy="392.77" rx="1.2" ry="1.5" fill="#e4000c"/>
<ellipse cx="481.99" cy="391.47" rx="1.2" ry="1.5" fill="#e4000c"/>
<ellipse cx="483.37" cy="392.60" rx="1.2" ry="1.5" fill="#e4000c"/>
<ellipse cx="484.74" cy="391.81" rx="1.2" ry="1.5" fill="#e4000c"/>
<ellipse cx="486.11" cy="391.60" rx="1.2" ry="1.5" fill="#e4000c"/>
<ellipse cx="487.49" cy="391.56" rx="1.2" ry="1.5" fill="#e4000c"/>
<ellipse cx="488.86" cy="391.83" rx="1.2" ry="1.5" fill="#e4000c"/>
<ellipse cx="490.24" cy="392.54" rx="1.2" ry="1.5" fill="#e4000c"/>
<ellipse cx="491.61" cy="391.65" rx="1.2" ry="1.5" fill="#e4000c"/>
<ellipse cx="492.98" cy="392.21" rx="1.2" ry="1.5" fill="#e4000c"/>
<ellipse cx="494.36" cy="392.29" rx="1.2" ry="1.5" fill="#e4000c"/>
<ellipse cx="495.73" cy="391.92" rx="1.2" ry="1.5" fill="#e4000c"/>
<ellipse cx="497.11" cy="392.17" rx="1.2" ry="1.5" fill="#e4000c"/>
<ellipse cx="498.48" cy="391.49" rx="1.2" ry="1.5" fill="#e4000c"/>
<ellipse cx="499.85" cy="391.48" rx="1.2" ry="1.5" fill="#e4000c"/>
<ellipse cx="500.90" cy="386.80" rx="1.2" ry="1.5" fill="#e4000c"/>
<ellipse cx="502.30" cy="389.50" rx="1.2" ry="1.5" fill="#e4000c"/>
<ellipse cx="503.90" cy="387.90" rx="1.2" ry="1.5" fill="#e4000c"/>
<ellipse cx="505.35" cy="391.69" rx="1.2" ry="1.5" fill="#e4000c"/>
<ellipse cx="506.72" cy="392.35" rx="1.2" ry="1.5" fill="#e4000c"/>
<ellipse cx="508.10" cy="392.00" rx="1.2" ry="1.5" fill="#e4000c"/>
<ellipse cx="509.47" cy="391.84" rx="1.2" ry="1.5" fill="#e4000c"/>
<ellipse cx="510.85" cy="392.22" rx="1.2" ry="1.5" fill="#e4000c"/>
<ellipse cx="512.22" cy="392.03" rx="1.2" ry="1.5" fill="#e4000c"/>
<ellipse cx="513.59" cy="391.82" rx="1.2" ry="1.5" fill="#e4000c"/>
<ellipse cx="514.97" cy="392.51" rx="1.2" ry="1.5" fill="#e4000c"/>
<ellipse cx="516.34" cy="392.38" rx="1.2" ry="1.5" fill="#e4000c"/>
<ellipse cx="517.72" cy="391.74" rx="1.2" ry="1.5" fill="#e4000c"/>
<ellipse cx="519.09" cy="392.20" rx="1.2" ry="1.5" fill="#e4000c"/>
<ellipse cx="520.46" cy="392.14" rx="1.2" ry="1.5" fill="#e4000c"/>
<ellipse cx="521.84" cy="392.63" rx="1.2" ry="1.5" fill="#e4000c"/>
<ellipse cx="523.21" cy="392.42" rx="1.2" ry="1.5" fill="#e4000c"/>
<ellipse cx="524.59" cy="391.80" rx="1.2" ry="1.5" fill="#e4000c"/>
<ellipse cx="525.96" cy="392.77" rx="1.2" ry="1.5" fill="#e4000c"/>
<ellipse cx="527.33" cy="391.57" rx="1.2" ry="1.5" fill="#e4000c"/>
<ellipse cx="528.71" cy="391.99" rx="1.2" ry="1.5" fill="#e4000c"/>
<ellipse cx="530.08" cy="392.46" rx="1.2" ry="1.5" fill="#e4000c"/>
<ellipse cx="531.46" cy="391.61" rx="1.2" ry="1.5" fill="#e4000c"/>
<ellipse cx="532.83" cy="392.08" rx="1.2" ry="1.5" fill="#e4000c"/>
<ellipse cx="534.20" cy="391.45" rx="1.2" ry="1.5" fill="#e4000c"/>
<ellipse cx="535.58" cy="392.34" rx="1.2" ry="1.5" fill="#e4000c"/>
<ellipse cx="536.95" cy="392.47" rx="1.2" ry="1.5" fill="#e4000c"/>
<rect x="447.5" y="302.2" width="91.2" height="24.3" fill="#fff" stroke="#404040" stroke-width="0.9"/>
<ellipse cx="462.4" cy="308.6" rx="1.2" ry="1.5" fill="#0000c4"/>
<ellipse cx="462.4" cy="320.1" rx="1.2" ry="1.5" fill="#e4000c"/>
<text transform="translate(477.10,311.40) scale(0.86,1)" font-size="8.1" text-anchor="start" font-weight="normal" fill="#1a1a1a" stroke="#1a1a1a" stroke-width="0.2">NP/OP swaps PCR</text>
<text transform="translate(477.10,322.90) scale(0.86,1)" font-size="8.1" text-anchor="start" font-weight="normal" fill="#1a1a1a" stroke="#1a1a1a" stroke-width="0.2">Whole blood</text></svg>
</body></html>
